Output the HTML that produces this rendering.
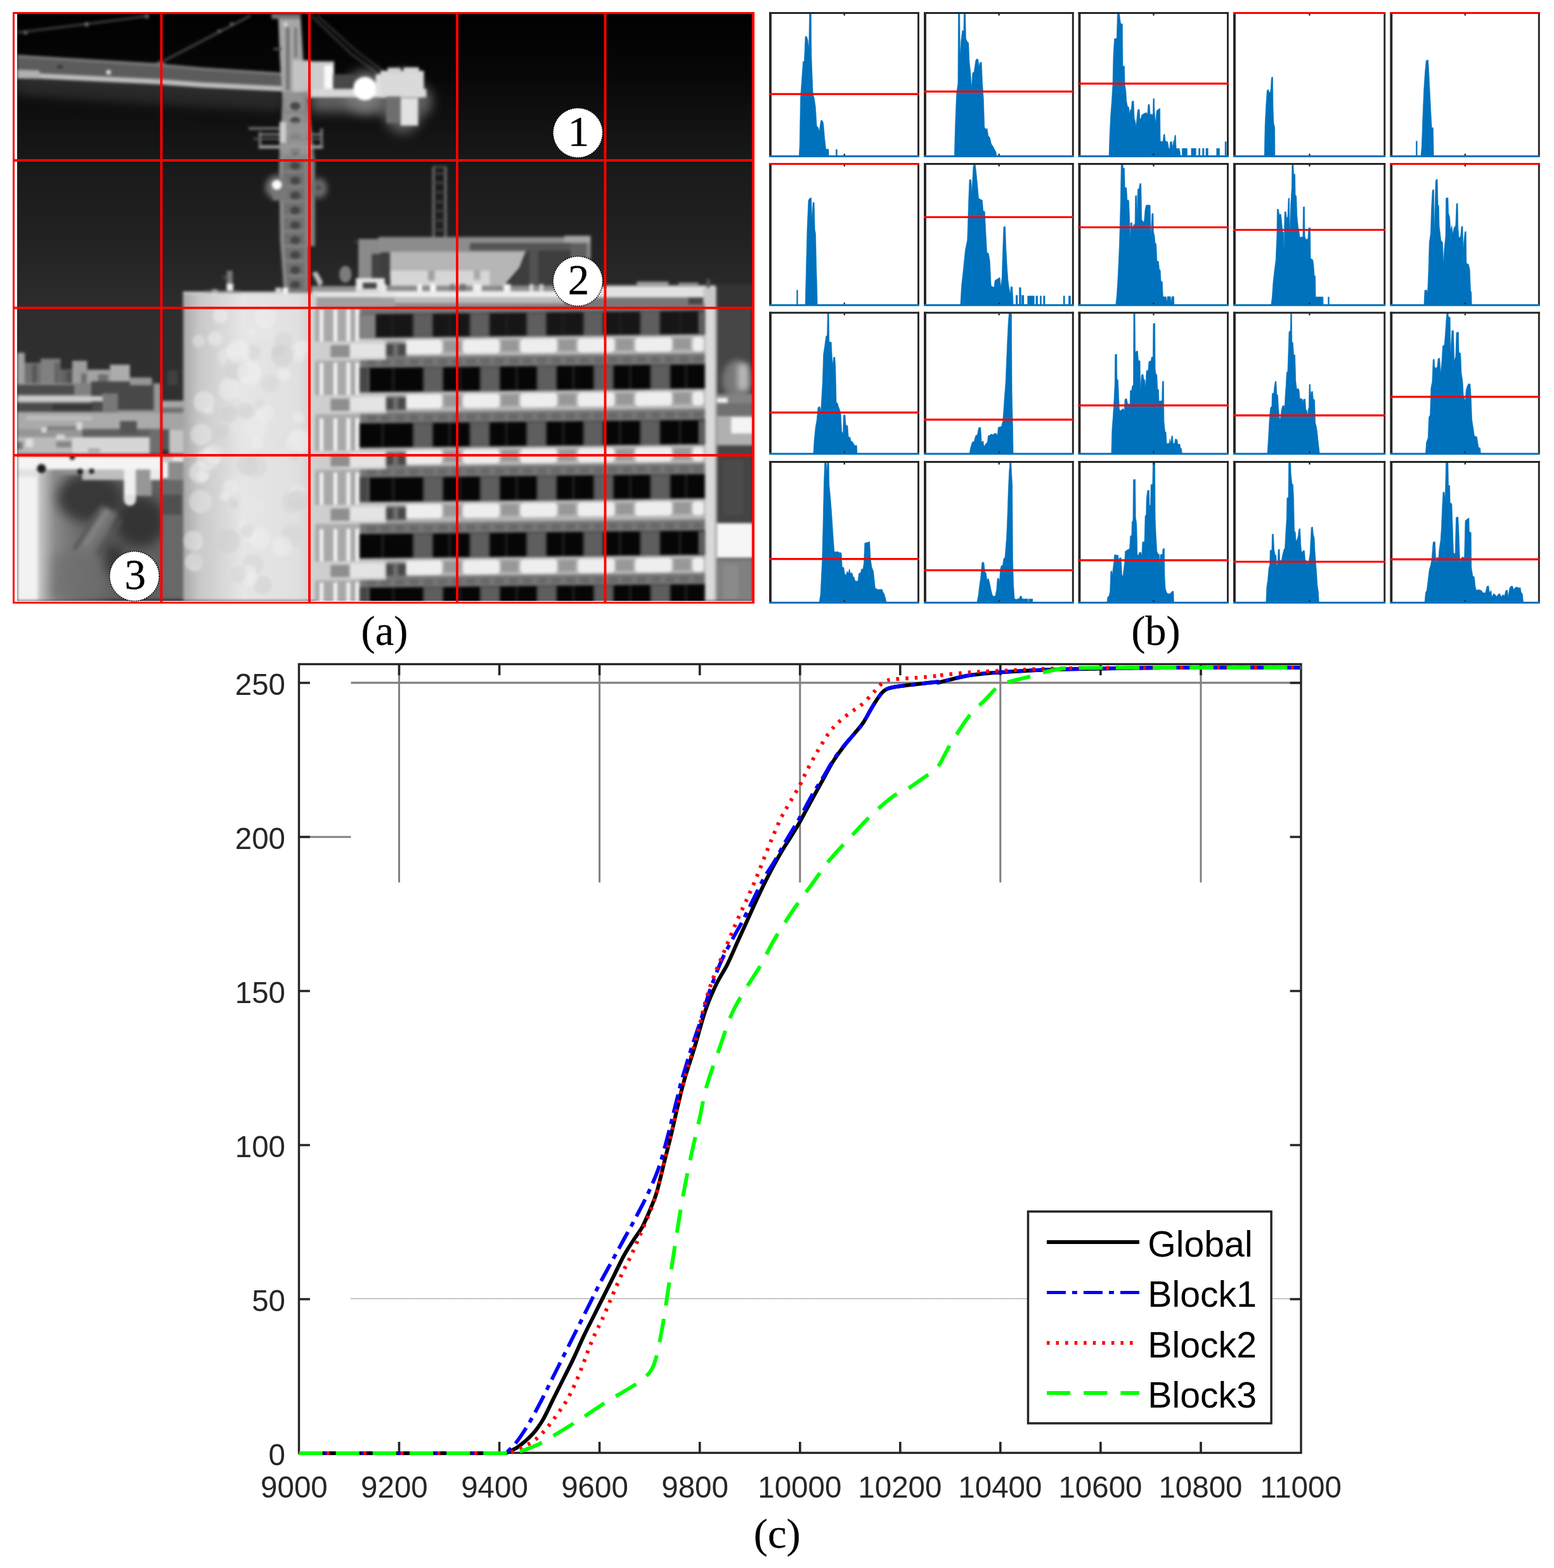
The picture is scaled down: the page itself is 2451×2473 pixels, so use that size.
<!DOCTYPE html>
<html lang="en"><head><meta charset="utf-8"><title>Figure</title>
<style>
html,body{margin:0;padding:0;background:#fff;}
body{width:2451px;height:2473px;overflow:hidden;}
svg{display:block;}
text{font-family:"Liberation Sans",sans-serif;}
.tk{font-size:47.5px;fill:#262626;}
.lg{font-size:57.2px;fill:#000;}
.cap{font-family:"Liberation Serif",serif;font-size:66.5px;fill:#000;stroke:#000;stroke-width:0.3px;}
.num{font-family:"Liberation Serif",serif;font-size:67px;fill:#000;stroke:#000;stroke-width:0.4px;}
</style></head><body>
<svg width="2451" height="2473" viewBox="0 0 2451 2473">
<rect width="2451" height="2473" fill="#fff"/>
<defs>
<clipPath id="pclip"><rect x="27" y="22" width="1159" height="925.7"/></clipPath>
<linearGradient id="skyg" x1="0" y1="0" x2="0" y2="1"><stop offset="0" stop-color="#010101"/><stop offset="0.1" stop-color="#070707"/><stop offset="0.25" stop-color="#191919"/><stop offset="0.4" stop-color="#232323"/><stop offset="0.5" stop-color="#2d2d2d"/><stop offset="0.75" stop-color="#313131"/><stop offset="1" stop-color="#343434"/></linearGradient>
<linearGradient id="concg" x1="0" y1="0" x2="1" y2="0"><stop offset="0" stop-color="#a8a8a8"/><stop offset="0.12" stop-color="#c8c8c8"/><stop offset="0.45" stop-color="#e6e6e6"/><stop offset="0.85" stop-color="#e0e0e0"/><stop offset="1" stop-color="#d0d0d0"/></linearGradient>
<linearGradient id="blg" x1="0" y1="0" x2="1" y2="0"><stop offset="0" stop-color="#f2f2f2"/><stop offset="0.2" stop-color="#f0f0f0"/><stop offset="0.24" stop-color="#c4c4c4"/><stop offset="0.4" stop-color="#8a8a8a"/><stop offset="1" stop-color="#606060" stop-opacity="0"/></linearGradient>
<filter id="b2" color-interpolation-filters="sRGB" x="-5%" y="-5%" width="110%" height="110%"><feGaussianBlur stdDeviation="2.3"/></filter>
<filter id="b4" color-interpolation-filters="sRGB" x="-50%" y="-50%" width="200%" height="200%"><feGaussianBlur stdDeviation="4"/></filter>
<filter id="b8" color-interpolation-filters="sRGB" x="-50%" y="-50%" width="200%" height="200%"><feGaussianBlur stdDeviation="9"/></filter>
</defs>
<g clip-path="url(#pclip)">
<g filter="url(#b2)">
<rect x="0" y="0" width="1220" height="980" fill="#222"/>
<rect x="27" y="22" width="1159" height="925.7" fill="url(#skyg)"/>
<path d="M27,120 L253,133 L445,146 L445,162 L253,150 L27,138Z" fill="#464646" filter="url(#b8)"/>
<path d="M27,125 L253,138 L445,150 L445,175 L253,165 L27,150Z" fill="#282828" filter="url(#b8)"/>
<path d="M27,51.3 L135.9,38 L231.5,25.5" fill="none" stroke="#3e3e3e" stroke-width="3.5"/>
<circle cx="40.4" cy="51.3" r="3.4" fill="#5f5f5f"/>
<circle cx="136.7" cy="38.5" r="3.4" fill="#6e6e6e"/>
<circle cx="231.5" cy="26" r="3.4" fill="#646464"/>
<path d="M254.2,98.3 L320,63.9 L395.2,24.7" fill="none" stroke="#464646" stroke-width="3.5"/>
<circle cx="345.8" cy="49" r="2.8" fill="#696969"/>
<circle cx="365.4" cy="38" r="2.8" fill="#696969"/>
<path d="M490.8,24.7 L555,85.8 L602,120.3" fill="none" stroke="#3a3a3a" stroke-width="3"/>
<path d="M500.2,24.7 L564.4,82.7 L611.4,117.1" fill="none" stroke="#343434" stroke-width="3"/>
<path d="M27,86.5 L245,99.5 L253,95 L262,101.5 L320,106.5 L445,114.5 L445,144.5 L320,138.5 L253,134 L27,123Z" fill="#5c5c5c"/>
<path d="M27,88.5 L253,102.5 L320,108.5 L445,116.5" fill="none" stroke="#7c7c7c" stroke-width="4"/>
<path d="M27,118 L253,129 L320,134 L445,140" fill="none" stroke="#bcbcbc" stroke-width="8"/>
<path d="M27,110 L62,111 L64,124 L27,124Z" fill="#b0b0b0"/>
<circle cx="171.2" cy="114" r="3.8" fill="#e1e1e1"/>
<rect x="90.5" y="103" width="7.8" height="4.7" fill="#323232"/>
<rect x="428.1" y="22.3" width="46.2" height="7.4" fill="#787878"/>
<path d="M439.1,29.4 L474.3,29.4 L478.2,95.2 L478.5,154.7 L445.3,154.7 L441.4,90.5Z" fill="#a6a6a6"/>
<rect x="451.3" y="43.5" width="5.3" height="98.7" fill="#707070"/>
<rect x="464.1" y="43.5" width="4.7" height="47" fill="#787878"/>
<circle cx="450.3" cy="38.5" r="3.4" fill="#d7d7d7"/>
<rect x="431.2" y="75.1" width="12.5" height="4.4" fill="#464646"/>
<rect x="461.8" y="95.2" width="29" height="59.5" fill="#c4c4c4"/>
<path d="M446.1,145.3 L485.3,145.3 L497,255 L497,388.2 L486.8,388.2 L486.8,466.5 L448.5,466.5 L441.4,380.3 L439.8,264.4Z" fill="#707070"/>
<path d="M446.1,145.3 L485.3,145.3 L490.8,251.9 L440.6,251.9Z" fill="#929292"/>
<path d="M450,153.2 L443.8,264.4 L445.3,380.3 L450.8,466.5" fill="none" stroke="#8c8c8c" stroke-width="5"/>
<path d="M481.4,153.2 L482.9,264.4 L483.7,466.5" fill="none" stroke="#878787" stroke-width="4.5"/>
<path d="M493.1,255 L493.6,388.2" fill="none" stroke="#828282" stroke-width="5"/>
<ellipse cx="465.7" cy="167.3" rx="8.1" ry="6.3" fill="#464646"/>
<path d="M448.5,176.7 L482.9,176.7" fill="none" stroke="#828282" stroke-width="4"/>
<ellipse cx="465.7" cy="190.8" rx="8.1" ry="6.3" fill="#464646"/>
<path d="M448.5,200.2 L482.9,200.2" fill="none" stroke="#828282" stroke-width="4"/>
<ellipse cx="465.7" cy="214.3" rx="8.1" ry="6.3" fill="#464646"/>
<path d="M448.5,223.7 L482.9,223.7" fill="none" stroke="#828282" stroke-width="4"/>
<ellipse cx="465.7" cy="237.8" rx="8.1" ry="6.3" fill="#464646"/>
<path d="M448.5,247.2 L482.9,247.2" fill="none" stroke="#828282" stroke-width="4"/>
<ellipse cx="465.7" cy="261.3" rx="8.1" ry="6.3" fill="#464646"/>
<path d="M448.5,270.7 L482.9,270.7" fill="none" stroke="#828282" stroke-width="4"/>
<ellipse cx="465.7" cy="284.8" rx="8.1" ry="6.3" fill="#464646"/>
<path d="M448.5,294.2 L482.9,294.2" fill="none" stroke="#828282" stroke-width="4"/>
<ellipse cx="465.7" cy="308.3" rx="8.1" ry="6.3" fill="#464646"/>
<path d="M448.5,317.7 L482.9,317.7" fill="none" stroke="#828282" stroke-width="4"/>
<ellipse cx="465.7" cy="331.8" rx="8.1" ry="6.3" fill="#464646"/>
<path d="M448.5,341.2 L482.9,341.2" fill="none" stroke="#828282" stroke-width="4"/>
<ellipse cx="465.7" cy="355.3" rx="8.1" ry="6.3" fill="#464646"/>
<path d="M448.5,364.7 L482.9,364.7" fill="none" stroke="#828282" stroke-width="4"/>
<ellipse cx="465.7" cy="378.8" rx="8.1" ry="6.3" fill="#464646"/>
<path d="M448.5,388.2 L482.9,388.2" fill="none" stroke="#828282" stroke-width="4"/>
<ellipse cx="465.7" cy="402.3" rx="8.1" ry="6.3" fill="#464646"/>
<path d="M448.5,411.7 L482.9,411.7" fill="none" stroke="#828282" stroke-width="4"/>
<ellipse cx="465.7" cy="425.8" rx="8.1" ry="6.3" fill="#464646"/>
<path d="M448.5,435.2 L482.9,435.2" fill="none" stroke="#828282" stroke-width="4"/>
<ellipse cx="465.7" cy="449.3" rx="8.1" ry="6.3" fill="#464646"/>
<path d="M448.5,458.7 L482.9,458.7" fill="none" stroke="#828282" stroke-width="4"/>
<path d="M392.1,202.5 L443.8,202.5" fill="none" stroke="#737373" stroke-width="4"/>
<path d="M407.7,211.9 L508,211.9" fill="none" stroke="#787878" stroke-width="3.5"/>
<path d="M407.7,231.8 L509.6,231.8" fill="none" stroke="#a0a0a0" stroke-width="5"/>
<path d="M410.1,208 L410.1,231.8" fill="none" stroke="#787878" stroke-width="4"/>
<path d="M507.2,202.5 L507.2,231.8" fill="none" stroke="#787878" stroke-width="4"/>
<path d="M399.9,219 L506.4,219" fill="none" stroke="#5c5c5c" stroke-width="3"/>
<rect x="440.6" y="192.3" width="45.4" height="50.1" fill="#969696" opacity="0.75"/>
<rect x="441.4" y="192.3" width="9.9" height="32.9" fill="#cdcdcd"/>
<circle cx="437.5" cy="295.4" r="18.8" fill="#787878" filter="url(#b4)"/>
<rect x="429.7" y="304.8" width="25.1" height="11" fill="#787878"/>
<circle cx="436.7" cy="291.5" r="7.8" fill="#fcfcfc"/>
<ellipse cx="503.3" cy="297" rx="12.5" ry="15.7" fill="#6e6e6e" filter="url(#b4)"/>
<circle cx="502.5" cy="296.2" r="4.7" fill="#505050"/>
<rect x="490" y="142.2" width="190.3" height="34.5" fill="#606060" filter="url(#b8)"/>
<circle cx="576.9" cy="145.3" r="32.9" fill="#787878" filter="url(#b8)"/>
<ellipse cx="635.6" cy="161.9" rx="34" ry="48.6" fill="#5c5c5c" filter="url(#b8)"/>
<rect x="490" y="96.8" width="36.8" height="56.4" fill="#cdcdcd"/>
<rect x="511.4" y="103" width="14.1" height="36.8" fill="#fafafa"/>
<rect x="525.2" y="117.1" width="32.9" height="23.5" fill="#484848"/>
<rect x="490" y="140.3" width="182.5" height="13.2" fill="#d7d7d7"/>
<circle cx="575.7" cy="139.8" r="18.5" fill="#ffffff"/>
<rect x="592.6" y="117.1" width="27.4" height="36" fill="#e1e1e1"/>
<rect x="600" y="111.7" width="68.6" height="42.1" fill="#dadada"/>
<rect x="611.3" y="106.8" width="21" height="9.7" fill="#d2d2d2"/>
<rect x="636.3" y="106.2" width="24.6" height="10.4" fill="#d7d7d7"/>
<rect x="631.7" y="154.8" width="27.8" height="43.4" fill="#e2e2e2"/>
<rect x="609.1" y="152.2" width="22.7" height="42.1" fill="#6e6e6e"/>
<rect x="1129.5" y="450" width="56.5" height="497.7" fill="#464646"/>
<rect x="1129.7" y="448.7" width="58" height="37.6" fill="#343434"/>
<ellipse cx="1162.6" cy="599.1" rx="23.5" ry="31.3" fill="#787878" filter="url(#b4)"/>
<rect x="1163.4" y="574" width="16.4" height="40.7" fill="#bababa" filter="url(#b4)"/>
<rect x="1131.3" y="621" width="56.4" height="15.7" fill="#828282"/>
<rect x="1128.1" y="627.3" width="19.6" height="8.1" fill="#f0f0f0"/>
<rect x="1131.3" y="636.7" width="56.4" height="19.6" fill="#707070"/>
<rect x="1131.3" y="656.2" width="56.4" height="46.2" fill="#b0b0b0"/>
<rect x="1153.2" y="657.8" width="34.5" height="25.8" fill="#f4f4f4"/>
<rect x="1131.3" y="704.8" width="56.4" height="14.9" fill="#464646"/>
<rect x="1131.3" y="718.6" width="56.4" height="103.4" fill="#444444"/>
<rect x="1140.7" y="725.7" width="31.3" height="86.2" fill="#505050" opacity="0.6"/>
<rect x="1117.2" y="825.1" width="70.5" height="54.8" fill="#f6f6f6"/>
<rect x="1131.3" y="882.3" width="56.4" height="65.8" fill="#808080"/>
<rect x="1140.7" y="890.2" width="23.5" height="54.8" fill="#8e8e8e" opacity="0.7"/>
<rect x="27" y="556.3" width="12.1" height="73.3" fill="#a0a0a0"/>
<rect x="39.1" y="572" width="24.8" height="57.7" fill="#707070"/>
<rect x="63.9" y="565.7" width="31.3" height="63.9" fill="#808080"/>
<rect x="95.2" y="582.7" width="18.8" height="47" fill="#646464"/>
<rect x="114" y="568.9" width="23.5" height="60.8" fill="#9c9c9c"/>
<rect x="137.5" y="583" width="36" height="46.7" fill="#a2a2a2"/>
<rect x="173.5" y="575.1" width="31.3" height="54.5" fill="#acacac"/>
<rect x="204.9" y="595.5" width="34.5" height="34.2" fill="#9c9c9c"/>
<rect x="239.3" y="614" width="14.4" height="15.7" fill="#5c5c5c"/>
<rect x="51.3" y="574.8" width="6.3" height="29.8" fill="#545454"/>
<rect x="85.8" y="571.7" width="7.8" height="32.9" fill="#646464"/>
<rect x="104.6" y="585.8" width="9.4" height="21.9" fill="#505050"/>
<rect x="154.7" y="590.5" width="15.7" height="17.2" fill="#6e6e6e"/>
<rect x="128.1" y="588.9" width="7.8" height="31.3" fill="#6e6e6e"/>
<rect x="27" y="604.6" width="226.7" height="111.2" fill="#969696"/>
<rect x="27" y="606.9" width="90.1" height="15.7" fill="#4c4c4c"/>
<rect x="117.1" y="604.6" width="28.2" height="18.8" fill="#828282"/>
<rect x="143.8" y="601.5" width="98.7" height="45.4" fill="#484848"/>
<rect x="161" y="620.3" width="25.1" height="29.8" fill="#787878"/>
<rect x="204.9" y="598.3" width="34.5" height="9.4" fill="#969696"/>
<rect x="27" y="624.7" width="134.7" height="8.5" fill="#cccccc"/>
<rect x="27" y="635.6" width="134.7" height="13.6" fill="#4a4a4a"/>
<rect x="82.7" y="636.7" width="62.7" height="11" fill="#383838"/>
<rect x="27" y="651.6" width="226.7" height="25.1" fill="#aaaaaa"/>
<rect x="41.9" y="656.3" width="103.4" height="6.3" fill="#bebebe"/>
<rect x="120.3" y="665.7" width="9.4" height="12.5" fill="#d7d7d7"/>
<rect x="65.4" y="674.3" width="7.8" height="7.8" fill="#dcdcdc"/>
<rect x="129.7" y="676.7" width="124.1" height="12.8" fill="#606060"/>
<rect x="189.2" y="664.1" width="26.6" height="20.4" fill="#545454"/>
<rect x="74.8" y="672" width="45.4" height="6.3" fill="#828282"/>
<rect x="27" y="689.5" width="226.7" height="26.3" fill="#bababa"/>
<rect x="114" y="690" width="121.4" height="25.8" fill="#d6d6d6"/>
<rect x="40.4" y="691.5" width="11.7" height="14.1" fill="#dedede"/>
<rect x="88.9" y="685.3" width="13.3" height="7.8" fill="#d7d7d7"/>
<rect x="27" y="697" width="8.6" height="11.7" fill="#787878"/>
<rect x="88.9" y="696.2" width="23.5" height="9.4" fill="#868686"/>
<rect x="139.1" y="707.2" width="18.8" height="6.3" fill="#aaaaaa"/>
<rect x="236.2" y="676.7" width="17.5" height="39.2" fill="#6e6e6e"/>
<rect x="255" y="582.7" width="36.8" height="45.4" fill="#303030"/>
<rect x="264.4" y="584.2" width="15.7" height="23.5" fill="#404040"/>
<rect x="255" y="632" width="36.8" height="11" fill="#a5a5a5"/>
<rect x="255" y="643" width="36.8" height="7.8" fill="#707070"/>
<rect x="255" y="650.8" width="36.8" height="26.6" fill="#a5a5a5"/>
<rect x="255" y="677.4" width="11.7" height="32.1" fill="#545454"/>
<rect x="266.7" y="677.4" width="25.8" height="38.4" fill="#c4c4c4"/>
<rect x="27" y="719.4" width="265.5" height="225.6" fill="#606060"/>
<rect x="27" y="719.4" width="149.6" height="228.3" fill="url(#blg)"/>
<ellipse cx="142.2" cy="785.2" rx="51.7" ry="39.2" fill="#383838" filter="url(#b8)"/>
<ellipse cx="220.5" cy="822.8" rx="40.7" ry="40.7" fill="#343434" filter="url(#b8)"/>
<ellipse cx="178.2" cy="882.3" rx="20.4" ry="26.6" fill="#383838" filter="url(#b8)"/>
<path d="M107.7,874.5 L161,797.7 L186.1,810.3 L139.1,882.3Z" fill="#767676" filter="url(#b4)"/>
<path d="M79.5,945 L85.8,874.5 L161,866.7 L168.8,945Z" fill="#707070" opacity="0.8" filter="url(#b8)"/>
<path d="M134.4,860.4 L170.4,804" fill="none" stroke="#848484" stroke-width="8" opacity="0.7"/>
<path d="M117.1,866.7 L154.7,807.1" fill="none" stroke="#505050" stroke-width="8" opacity="0.6"/>
<path d="M154.7,874.5 L192.3,819.7" fill="none" stroke="#545454" stroke-width="8" opacity="0.6"/>
<rect x="129.7" y="738.2" width="67.4" height="18.8" fill="#bebebe"/>
<rect x="214.3" y="739.8" width="25.1" height="42.3" fill="#969696"/>
<rect x="27" y="719.4" width="227.2" height="21.1" fill="#f4f4f4"/>
<rect x="27" y="739.8" width="31.3" height="13.3" fill="#e2e2e2"/>
<rect x="27" y="752.3" width="30.5" height="192.7" fill="#f2f2f2"/>
<rect x="195.5" y="739.8" width="18.8" height="48.6" fill="#f0f0f0"/>
<circle cx="204.9" cy="788.3" r="9.4" fill="#e1e1e1"/>
<rect x="237" y="739.8" width="17.2" height="17.2" fill="#ebebeb"/>
<rect x="82.7" y="740.5" width="47" height="8.6" fill="#8c8c8c"/>
<circle cx="65.4" cy="739" r="7.2" fill="#1c1c1c"/>
<circle cx="114" cy="721.3" r="4.1" fill="#1c1c1c"/>
<circle cx="126.5" cy="743.7" r="4.7" fill="#1c1c1c"/>
<circle cx="144.5" cy="743.2" r="4.1" fill="#1c1c1c"/>
<rect x="255" y="719.4" width="38.4" height="9.4" fill="#c8c8c8"/>
<rect x="255" y="757" width="38.4" height="188" fill="#686868"/>
<rect x="255" y="780.5" width="31.3" height="31.3" fill="#505050"/>
<rect x="255.8" y="728.8" width="9.4" height="25.8" fill="#f4f4f4"/>
<rect x="265.2" y="728.8" width="28.2" height="28.2" fill="#8c8c8c"/>
<rect x="272.2" y="719.4" width="21.1" height="7.8" fill="#ebebeb"/>
<path d="M683.8,262.5 L683.8,375.3" fill="none" stroke="#6c6c6c" stroke-width="4"/>
<path d="M702.6,262.5 L702.6,375.3" fill="none" stroke="#707070" stroke-width="4"/>
<path d="M681.5,263.3 L705,263.3" fill="none" stroke="#505050" stroke-width="3"/>
<path d="M683.8,273.5 L702.6,273.5" fill="none" stroke="#424242" stroke-width="3.5"/>
<path d="M683.8,288.4 L702.6,288.4" fill="none" stroke="#424242" stroke-width="3.5"/>
<path d="M683.8,303.3 L702.6,303.3" fill="none" stroke="#424242" stroke-width="3.5"/>
<path d="M683.8,318.1 L702.6,318.1" fill="none" stroke="#424242" stroke-width="3.5"/>
<path d="M683.8,333 L702.6,333" fill="none" stroke="#424242" stroke-width="3.5"/>
<path d="M683.8,347.9 L702.6,347.9" fill="none" stroke="#424242" stroke-width="3.5"/>
<path d="M683.8,362.8 L702.6,362.8" fill="none" stroke="#424242" stroke-width="3.5"/>
<rect x="565.2" y="376.9" width="57.2" height="62.7" fill="#8a8a8a"/>
<rect x="586.3" y="400.4" width="26.6" height="39.2" fill="#424242"/>
<rect x="558.1" y="380.8" width="7.8" height="2.3" fill="#505050"/>
<rect x="596.9" y="373.8" width="303.1" height="25.1" fill="#8c8c8c"/>
<rect x="890" y="371.4" width="41.5" height="50.9" fill="#5f5f5f"/>
<rect x="890" y="372.2" width="41.5" height="11" fill="#a5a5a5"/>
<rect x="925.7" y="383.2" width="5.8" height="23.5" fill="#8c8c8c"/>
<rect x="741" y="383.2" width="159" height="11.7" fill="#545454"/>
<rect x="600" y="398" width="14.9" height="55.6" fill="#3e3e3e"/>
<path d="M615.7,397.3 L828.7,397.3 L819.3,422.3 L794.3,451.3 L615.7,451.3Z" fill="#b6b6b6"/>
<rect x="615.7" y="427" width="156.7" height="24.3" fill="#d6d6d6"/>
<rect x="675.2" y="427" width="10.2" height="15.7" fill="#a0a0a0"/>
<rect x="747.3" y="425.5" width="10.2" height="15.7" fill="#aaaaaa"/>
<path d="M830.3,394.9 L900,394.9 L900,452.1 L797.4,452.1 L820.9,423.9Z" fill="#3e3e3e"/>
<rect x="835" y="394.9" width="14.1" height="57.2" fill="#525252"/>
<rect x="490.8" y="451.3" width="131.6" height="8.6" fill="#969696"/>
<rect x="600" y="450.5" width="300" height="8.6" fill="#8c8c8c"/>
<rect x="600" y="448.2" width="9.4" height="11.7" fill="#f0f0f0"/>
<rect x="658" y="448.2" width="7.8" height="11.7" fill="#f5f5f5"/>
<rect x="678.3" y="448.2" width="9.4" height="11.7" fill="#fafafa"/>
<rect x="745.7" y="448.2" width="14.1" height="11.7" fill="#f0f0f0"/>
<rect x="794.3" y="448.2" width="11" height="11.7" fill="#f5f5f5"/>
<rect x="835" y="448.2" width="6.3" height="11.7" fill="#d7d7d7"/>
<rect x="850.7" y="448.2" width="6.3" height="11.7" fill="#d2d2d2"/>
<rect x="709.7" y="448.2" width="7.8" height="11.7" fill="#787878"/>
<rect x="725.3" y="448.2" width="9.4" height="11.7" fill="#6e6e6e"/>
<rect x="599.2" y="459.1" width="300.8" height="10.2" fill="#ececec"/>
<rect x="599.2" y="469.3" width="300.8" height="8.6" fill="#bebebe"/>
<rect x="599.2" y="477.9" width="300.8" height="7.8" fill="#8c8c8c"/>
<rect x="490.8" y="459.9" width="131.6" height="9.4" fill="#e4e4e4"/>
<rect x="490.8" y="469.3" width="131.6" height="16.4" fill="#a0a0a0"/>
<rect x="955.8" y="449.7" width="173.1" height="3.9" fill="#aaaaaa"/>
<rect x="1004.4" y="444.3" width="50.1" height="7.8" fill="#a0a0a0"/>
<rect x="1070.2" y="445.8" width="31.3" height="6.3" fill="#969696"/>
<rect x="890" y="452.1" width="238.9" height="17.2" fill="#e2e2e2"/>
<rect x="890" y="469.3" width="219.3" height="16.4" fill="#787878"/>
<rect x="1085.8" y="469.3" width="23.5" height="16.4" fill="#464646"/>
<rect x="1109.3" y="453.7" width="20.4" height="32.1" fill="#c8c8c8"/>
<rect x="1114.3" y="440.3" width="5.6" height="13.3" fill="#545454"/>
<rect x="288.7" y="459.9" width="199" height="25.8" fill="#cecece"/>
<rect x="357.6" y="427" width="9.4" height="21.9" fill="#787878"/>
<rect x="351.3" y="434.9" width="6.3" height="5.5" fill="#464646"/>
<rect x="357.6" y="447.4" width="10.2" height="13.3" fill="#f0f0f0"/>
<rect x="334.1" y="456.8" width="9.4" height="11" fill="#f0f0f0"/>
<rect x="323.1" y="458.4" width="56.4" height="3.1" fill="#828282"/>
<rect x="434.4" y="453.7" width="9.4" height="7.8" fill="#d7d7d7"/>
<rect x="445.3" y="453.7" width="9.4" height="9.4" fill="#f5f5f5"/>
<rect x="454.7" y="455.2" width="31.3" height="6.3" fill="#787878"/>
<path d="M492.3,430.2 L500.2,428.6 L509.6,445.8 L503.3,452.1Z" fill="#bebebe"/>
<ellipse cx="544.8" cy="432.5" rx="9.7" ry="13.3" fill="#7c7c7c"/>
<rect x="561.3" y="438.8" width="45.4" height="20.4" fill="#e8e8e8"/>
<rect x="572.2" y="445.8" width="21.9" height="9.7" fill="#464646"/>
<rect x="289.1" y="463.6" width="209.9" height="484.1" fill="url(#concg)"/>
<circle cx="358.8" cy="563.3" r="14.9" fill="#ececec" opacity="0.5"/>
<circle cx="447.3" cy="538" r="14" fill="#d4d4d4" opacity="0.5"/>
<circle cx="339.3" cy="534.3" r="11.9" fill="#f0f0f0" opacity="0.5"/>
<circle cx="317.3" cy="685.6" r="17.2" fill="#ececec" opacity="0.5"/>
<circle cx="469.8" cy="777.7" r="14" fill="#ececec" opacity="0.5"/>
<circle cx="403.9" cy="673.1" r="19.1" fill="#ececec" opacity="0.5"/>
<circle cx="400.2" cy="555.4" r="11.9" fill="#d4d4d4" opacity="0.5"/>
<circle cx="322.1" cy="633.7" r="17" fill="#f0f0f0" opacity="0.5"/>
<circle cx="319.4" cy="751.1" r="8.9" fill="#ececec" opacity="0.5"/>
<circle cx="398.6" cy="524" r="7.2" fill="#f0f0f0" opacity="0.5"/>
<circle cx="389.5" cy="733.5" r="16.5" fill="#cdcdcd" opacity="0.5"/>
<circle cx="405.4" cy="698.4" r="10.4" fill="#f0f0f0" opacity="0.5"/>
<circle cx="425.6" cy="605" r="13.9" fill="#d4d4d4" opacity="0.5"/>
<circle cx="389.3" cy="649.4" r="12.3" fill="#d4d4d4" opacity="0.5"/>
<circle cx="475.6" cy="548.7" r="11.9" fill="#f4f4f4" opacity="0.5"/>
<circle cx="328.2" cy="714.4" r="7" fill="#e8e8e8" opacity="0.5"/>
<circle cx="314.9" cy="745.2" r="16.7" fill="#f4f4f4" opacity="0.5"/>
<circle cx="361.7" cy="652.4" r="12.9" fill="#cdcdcd" opacity="0.5"/>
<circle cx="313.3" cy="537.7" r="10" fill="#e8e8e8" opacity="0.5"/>
<circle cx="419.4" cy="523" r="15.6" fill="#e8e8e8" opacity="0.5"/>
<circle cx="404" cy="800.3" r="12.2" fill="#e8e8e8" opacity="0.5"/>
<circle cx="369.8" cy="794.6" r="6.8" fill="#cdcdcd" opacity="0.5"/>
<circle cx="364.4" cy="768.9" r="12.9" fill="#f0f0f0" opacity="0.5"/>
<circle cx="437.9" cy="553.7" r="9.7" fill="#cdcdcd" opacity="0.5"/>
<circle cx="464.4" cy="717.7" r="8.6" fill="#cdcdcd" opacity="0.5"/>
<circle cx="398.9" cy="890.6" r="17.1" fill="#d4d4d4" opacity="0.5"/>
<circle cx="350.7" cy="681.5" r="11.1" fill="#cdcdcd" opacity="0.5"/>
<circle cx="471.6" cy="563.3" r="8.8" fill="#f0f0f0" opacity="0.5"/>
<circle cx="418.4" cy="501.3" r="17.2" fill="#f0f0f0" opacity="0.5"/>
<circle cx="347.9" cy="497.7" r="11.9" fill="#f4f4f4" opacity="0.5"/>
<circle cx="409.7" cy="638.3" r="8.1" fill="#d4d4d4" opacity="0.5"/>
<circle cx="470.3" cy="788.5" r="16.1" fill="#cdcdcd" opacity="0.5"/>
<circle cx="461.3" cy="844.4" r="17.8" fill="#d4d4d4" opacity="0.5"/>
<circle cx="371" cy="674.2" r="7.8" fill="#e8e8e8" opacity="0.5"/>
<circle cx="372.4" cy="581.1" r="19.2" fill="#cdcdcd" opacity="0.5"/>
<circle cx="330" cy="647.8" r="7.2" fill="#ececec" opacity="0.5"/>
<circle cx="402" cy="735.7" r="18.8" fill="#d4d4d4" opacity="0.5"/>
<circle cx="305.6" cy="886.5" r="14.4" fill="#f0f0f0" opacity="0.5"/>
<circle cx="414.1" cy="922.8" r="14.3" fill="#cdcdcd" opacity="0.5"/>
<circle cx="323" cy="875.2" r="19.3" fill="#cdcdcd" opacity="0.5"/>
<circle cx="386.6" cy="635.2" r="8.3" fill="#e8e8e8" opacity="0.5"/>
<circle cx="362.1" cy="614.2" r="17.2" fill="#f0f0f0" opacity="0.5"/>
<circle cx="393" cy="587.6" r="18.8" fill="#f4f4f4" opacity="0.5"/>
<circle cx="327.2" cy="738.6" r="6.8" fill="#d4d4d4" opacity="0.5"/>
<circle cx="354.2" cy="783.1" r="7.7" fill="#f4f4f4" opacity="0.5"/>
<circle cx="393.4" cy="901.7" r="11.1" fill="#f0f0f0" opacity="0.5"/>
<circle cx="395.9" cy="844" r="10.7" fill="#f0f0f0" opacity="0.5"/>
<circle cx="410.3" cy="848.1" r="16.3" fill="#f0f0f0" opacity="0.5"/>
<circle cx="444.6" cy="861.5" r="16.1" fill="#f0f0f0" opacity="0.5"/>
<circle cx="336.7" cy="716.1" r="15.9" fill="#ececec" opacity="0.5"/>
<circle cx="441.8" cy="706.9" r="9" fill="#d4d4d4" opacity="0.5"/>
<circle cx="471.4" cy="695.7" r="18.6" fill="#f4f4f4" opacity="0.5"/>
<circle cx="471.2" cy="658.8" r="9.3" fill="#f0f0f0" opacity="0.5"/>
<circle cx="384.8" cy="646.8" r="12.7" fill="#d4d4d4" opacity="0.5"/>
<circle cx="450.8" cy="710.1" r="14.9" fill="#e8e8e8" opacity="0.5"/>
<circle cx="316.2" cy="791" r="18.3" fill="#e8e8e8" opacity="0.5"/>
<circle cx="434.7" cy="709.5" r="8.8" fill="#e8e8e8" opacity="0.5"/>
<circle cx="360.3" cy="853.7" r="19.1" fill="#cdcdcd" opacity="0.5"/>
<circle cx="383.6" cy="828" r="7.6" fill="#f0f0f0" opacity="0.5"/>
<circle cx="331.4" cy="552.7" r="8.4" fill="#cdcdcd" opacity="0.5"/>
<circle cx="444.7" cy="561.2" r="17.2" fill="#cdcdcd" opacity="0.5"/>
<circle cx="418.1" cy="652.5" r="13.6" fill="#f0f0f0" opacity="0.5"/>
<circle cx="304.9" cy="853" r="15.9" fill="#ececec" opacity="0.5"/>
<circle cx="394.9" cy="913" r="12.1" fill="#f0f0f0" opacity="0.5"/>
<circle cx="448.2" cy="590.2" r="9.7" fill="#f4f4f4" opacity="0.5"/>
<circle cx="390.3" cy="837.1" r="10.7" fill="#d4d4d4" opacity="0.5"/>
<circle cx="375.7" cy="554.5" r="18.3" fill="#f4f4f4" opacity="0.5"/>
<circle cx="461" cy="791.9" r="17" fill="#d4d4d4" opacity="0.5"/>
<circle cx="376" cy="905.9" r="13" fill="#d4d4d4" opacity="0.5"/>
<circle cx="328.1" cy="724" r="17.8" fill="#f0f0f0" opacity="0.5"/>
<rect x="497" y="486" width="631" height="461.7" fill="#acacac"/>
<g transform="matrix(1,-0.0105,0,1,0,6.3)">
<rect x="568" y="485.2" width="544" height="12" fill="#767676"/>
<rect x="566" y="494.7" width="546.5" height="38.5" fill="#464646"/>
<rect x="568" y="496.7" width="23.1" height="34.5" fill="#5e5e5e"/>
<rect x="593" y="495.7" width="57.6" height="36.5" fill="#161616"/>
<rect x="617.2" y="495.7" width="4" height="36.5" fill="#1e1e1e"/>
<rect x="653.6" y="496.7" width="27.1" height="34.5" fill="#5e5e5e"/>
<rect x="683.2" y="495.7" width="57" height="36.5" fill="#161616"/>
<rect x="707.1" y="495.7" width="4" height="36.5" fill="#1e1e1e"/>
<rect x="743.2" y="496.7" width="27.1" height="34.5" fill="#5e5e5e"/>
<rect x="772.8" y="495.7" width="57" height="36.5" fill="#161616"/>
<rect x="796.7" y="495.7" width="4" height="36.5" fill="#1e1e1e"/>
<rect x="832.8" y="496.7" width="27.1" height="34.5" fill="#5e5e5e"/>
<rect x="862.4" y="495.7" width="57" height="36.5" fill="#161616"/>
<rect x="886.3" y="495.7" width="4" height="36.5" fill="#1e1e1e"/>
<rect x="922.4" y="496.7" width="27.1" height="34.5" fill="#5e5e5e"/>
<rect x="952" y="495.7" width="57" height="36.5" fill="#161616"/>
<rect x="975.9" y="495.7" width="4" height="36.5" fill="#1e1e1e"/>
<rect x="1012" y="496.7" width="27.1" height="34.5" fill="#5e5e5e"/>
<rect x="1041.6" y="495.7" width="69.4" height="36.5" fill="#161616"/>
<rect x="1070.7" y="495.7" width="4" height="36.5" fill="#1e1e1e"/>
<rect x="1101.6" y="496.7" width="9.4" height="34.5" fill="#5e5e5e"/>
<rect x="568" y="495.7" width="24" height="36.5" fill="#828282"/>
<rect x="552" y="532.7" width="561" height="31" fill="#b4b4b4"/>
<rect x="552" y="536.7" width="54.8" height="22.5" rx="5" fill="#eeeeee"/>
<rect x="609.8" y="538.7" width="26" height="17.5" fill="#989898"/>
<rect x="639.4" y="536.7" width="58" height="22.5" rx="5" fill="#eeeeee"/>
<rect x="700.4" y="538.7" width="26" height="17.5" fill="#989898"/>
<rect x="730" y="536.7" width="58" height="22.5" rx="5" fill="#eeeeee"/>
<rect x="791" y="538.7" width="26" height="17.5" fill="#989898"/>
<rect x="820.6" y="536.7" width="58" height="22.5" rx="5" fill="#eeeeee"/>
<rect x="881.6" y="538.7" width="26" height="17.5" fill="#989898"/>
<rect x="911.2" y="536.7" width="58" height="22.5" rx="5" fill="#eeeeee"/>
<rect x="972.2" y="538.7" width="26" height="17.5" fill="#989898"/>
<rect x="1001.8" y="536.7" width="58" height="22.5" rx="5" fill="#eeeeee"/>
<rect x="1062.8" y="538.7" width="26" height="17.5" fill="#989898"/>
<rect x="1092.4" y="536.7" width="17.6" height="22.5" rx="5" fill="#eeeeee"/>
<rect x="568" y="562.8" width="544" height="19" fill="#767676"/>
<rect x="579" y="567.3" width="14" height="9" fill="#686868"/>
<rect x="601.4" y="567.3" width="14" height="9" fill="#686868"/>
<rect x="623.8" y="567.3" width="14" height="9" fill="#686868"/>
<rect x="646.2" y="567.3" width="14" height="9" fill="#686868"/>
<rect x="668.6" y="567.3" width="14" height="9" fill="#686868"/>
<rect x="691" y="567.3" width="14" height="9" fill="#686868"/>
<rect x="713.4" y="567.3" width="14" height="9" fill="#686868"/>
<rect x="735.8" y="567.3" width="14" height="9" fill="#686868"/>
<rect x="758.2" y="567.3" width="14" height="9" fill="#686868"/>
<rect x="780.6" y="567.3" width="14" height="9" fill="#686868"/>
<rect x="803" y="567.3" width="14" height="9" fill="#686868"/>
<rect x="825.4" y="567.3" width="14" height="9" fill="#686868"/>
<rect x="847.8" y="567.3" width="14" height="9" fill="#686868"/>
<rect x="870.2" y="567.3" width="14" height="9" fill="#686868"/>
<rect x="892.6" y="567.3" width="14" height="9" fill="#686868"/>
<rect x="915" y="567.3" width="14" height="9" fill="#686868"/>
<rect x="937.4" y="567.3" width="14" height="9" fill="#686868"/>
<rect x="959.8" y="567.3" width="14" height="9" fill="#686868"/>
<rect x="982.2" y="567.3" width="14" height="9" fill="#686868"/>
<rect x="1004.6" y="567.3" width="14" height="9" fill="#686868"/>
<rect x="1027" y="567.3" width="14" height="9" fill="#686868"/>
<rect x="1049.4" y="567.3" width="14" height="9" fill="#686868"/>
<rect x="1071.8" y="567.3" width="14" height="9" fill="#686868"/>
<rect x="1094.2" y="567.3" width="14" height="9" fill="#686868"/>
<rect x="566" y="579.3" width="546.5" height="39.6" fill="#464646"/>
<rect x="580.2" y="581.3" width="27.1" height="35.6" fill="#5e5e5e"/>
<rect x="583" y="580.3" width="83.8" height="37.6" fill="#060606"/>
<rect x="618.2" y="580.3" width="4" height="37.6" fill="#1e1e1e"/>
<rect x="669.8" y="581.3" width="27.1" height="35.6" fill="#5e5e5e"/>
<rect x="699.4" y="580.3" width="57" height="37.6" fill="#060606"/>
<rect x="723.3" y="580.3" width="4" height="37.6" fill="#1e1e1e"/>
<rect x="759.4" y="581.3" width="27.1" height="35.6" fill="#5e5e5e"/>
<rect x="789" y="580.3" width="57" height="37.6" fill="#060606"/>
<rect x="812.9" y="580.3" width="4" height="37.6" fill="#1e1e1e"/>
<rect x="849" y="581.3" width="27.1" height="35.6" fill="#5e5e5e"/>
<rect x="878.6" y="580.3" width="57" height="37.6" fill="#060606"/>
<rect x="902.5" y="580.3" width="4" height="37.6" fill="#1e1e1e"/>
<rect x="938.6" y="581.3" width="27.1" height="35.6" fill="#5e5e5e"/>
<rect x="968.2" y="580.3" width="57" height="37.6" fill="#060606"/>
<rect x="992.1" y="580.3" width="4" height="37.6" fill="#1e1e1e"/>
<rect x="1028.2" y="581.3" width="27.1" height="35.6" fill="#5e5e5e"/>
<rect x="1057.8" y="580.3" width="53.2" height="37.6" fill="#060606"/>
<rect x="1080.1" y="580.3" width="4" height="37.6" fill="#1e1e1e"/>
<rect x="552" y="618.4" width="561" height="31" fill="#b4b4b4"/>
<rect x="552" y="622.4" width="54.8" height="22.5" rx="5" fill="#eeeeee"/>
<rect x="609.8" y="624.4" width="26" height="17.5" fill="#989898"/>
<rect x="639.4" y="622.4" width="58" height="22.5" rx="5" fill="#eeeeee"/>
<rect x="700.4" y="624.4" width="26" height="17.5" fill="#989898"/>
<rect x="730" y="622.4" width="58" height="22.5" rx="5" fill="#eeeeee"/>
<rect x="791" y="624.4" width="26" height="17.5" fill="#989898"/>
<rect x="820.6" y="622.4" width="58" height="22.5" rx="5" fill="#eeeeee"/>
<rect x="881.6" y="624.4" width="26" height="17.5" fill="#989898"/>
<rect x="911.2" y="622.4" width="58" height="22.5" rx="5" fill="#eeeeee"/>
<rect x="972.2" y="624.4" width="26" height="17.5" fill="#989898"/>
<rect x="1001.8" y="622.4" width="58" height="22.5" rx="5" fill="#eeeeee"/>
<rect x="1062.8" y="624.4" width="26" height="17.5" fill="#989898"/>
<rect x="1092.4" y="622.4" width="17.6" height="22.5" rx="5" fill="#eeeeee"/>
<rect x="568" y="650.5" width="544" height="19" fill="#767676"/>
<rect x="579" y="655" width="14" height="9" fill="#686868"/>
<rect x="601.4" y="655" width="14" height="9" fill="#686868"/>
<rect x="623.8" y="655" width="14" height="9" fill="#686868"/>
<rect x="646.2" y="655" width="14" height="9" fill="#686868"/>
<rect x="668.6" y="655" width="14" height="9" fill="#686868"/>
<rect x="691" y="655" width="14" height="9" fill="#686868"/>
<rect x="713.4" y="655" width="14" height="9" fill="#686868"/>
<rect x="735.8" y="655" width="14" height="9" fill="#686868"/>
<rect x="758.2" y="655" width="14" height="9" fill="#686868"/>
<rect x="780.6" y="655" width="14" height="9" fill="#686868"/>
<rect x="803" y="655" width="14" height="9" fill="#686868"/>
<rect x="825.4" y="655" width="14" height="9" fill="#686868"/>
<rect x="847.8" y="655" width="14" height="9" fill="#686868"/>
<rect x="870.2" y="655" width="14" height="9" fill="#686868"/>
<rect x="892.6" y="655" width="14" height="9" fill="#686868"/>
<rect x="915" y="655" width="14" height="9" fill="#686868"/>
<rect x="937.4" y="655" width="14" height="9" fill="#686868"/>
<rect x="959.8" y="655" width="14" height="9" fill="#686868"/>
<rect x="982.2" y="655" width="14" height="9" fill="#686868"/>
<rect x="1004.6" y="655" width="14" height="9" fill="#686868"/>
<rect x="1027" y="655" width="14" height="9" fill="#686868"/>
<rect x="1049.4" y="655" width="14" height="9" fill="#686868"/>
<rect x="1071.8" y="655" width="14" height="9" fill="#686868"/>
<rect x="1094.2" y="655" width="14" height="9" fill="#686868"/>
<rect x="566" y="667" width="546.5" height="39.6" fill="#464646"/>
<rect x="568" y="669" width="23.1" height="35.6" fill="#5e5e5e"/>
<rect x="566" y="668" width="84.6" height="37.6" fill="#060606"/>
<rect x="601.5" y="668" width="4" height="37.6" fill="#1e1e1e"/>
<rect x="653.6" y="669" width="27.1" height="35.6" fill="#5e5e5e"/>
<rect x="683.2" y="668" width="57" height="37.6" fill="#060606"/>
<rect x="707.1" y="668" width="4" height="37.6" fill="#1e1e1e"/>
<rect x="743.2" y="669" width="27.1" height="35.6" fill="#5e5e5e"/>
<rect x="772.8" y="668" width="57" height="37.6" fill="#060606"/>
<rect x="796.7" y="668" width="4" height="37.6" fill="#1e1e1e"/>
<rect x="832.8" y="669" width="27.1" height="35.6" fill="#5e5e5e"/>
<rect x="862.4" y="668" width="57" height="37.6" fill="#060606"/>
<rect x="886.3" y="668" width="4" height="37.6" fill="#1e1e1e"/>
<rect x="922.4" y="669" width="27.1" height="35.6" fill="#5e5e5e"/>
<rect x="952" y="668" width="57" height="37.6" fill="#060606"/>
<rect x="975.9" y="668" width="4" height="37.6" fill="#1e1e1e"/>
<rect x="1012" y="669" width="27.1" height="35.6" fill="#5e5e5e"/>
<rect x="1041.6" y="668" width="69.4" height="37.6" fill="#060606"/>
<rect x="1070.7" y="668" width="4" height="37.6" fill="#1e1e1e"/>
<rect x="1101.6" y="669" width="9.4" height="35.6" fill="#5e5e5e"/>
<rect x="552" y="706.1" width="561" height="31" fill="#b4b4b4"/>
<rect x="552" y="710.1" width="54.8" height="22.5" rx="5" fill="#eeeeee"/>
<rect x="609.8" y="712.1" width="26" height="17.5" fill="#989898"/>
<rect x="639.4" y="710.1" width="58" height="22.5" rx="5" fill="#eeeeee"/>
<rect x="700.4" y="712.1" width="26" height="17.5" fill="#989898"/>
<rect x="730" y="710.1" width="58" height="22.5" rx="5" fill="#eeeeee"/>
<rect x="791" y="712.1" width="26" height="17.5" fill="#989898"/>
<rect x="820.6" y="710.1" width="58" height="22.5" rx="5" fill="#eeeeee"/>
<rect x="881.6" y="712.1" width="26" height="17.5" fill="#989898"/>
<rect x="911.2" y="710.1" width="58" height="22.5" rx="5" fill="#eeeeee"/>
<rect x="972.2" y="712.1" width="26" height="17.5" fill="#989898"/>
<rect x="1001.8" y="710.1" width="58" height="22.5" rx="5" fill="#eeeeee"/>
<rect x="1062.8" y="712.1" width="26" height="17.5" fill="#989898"/>
<rect x="1092.4" y="710.1" width="17.6" height="22.5" rx="5" fill="#eeeeee"/>
<rect x="568" y="736" width="544" height="19" fill="#767676"/>
<rect x="579" y="740.5" width="14" height="9" fill="#686868"/>
<rect x="601.4" y="740.5" width="14" height="9" fill="#686868"/>
<rect x="623.8" y="740.5" width="14" height="9" fill="#686868"/>
<rect x="646.2" y="740.5" width="14" height="9" fill="#686868"/>
<rect x="668.6" y="740.5" width="14" height="9" fill="#686868"/>
<rect x="691" y="740.5" width="14" height="9" fill="#686868"/>
<rect x="713.4" y="740.5" width="14" height="9" fill="#686868"/>
<rect x="735.8" y="740.5" width="14" height="9" fill="#686868"/>
<rect x="758.2" y="740.5" width="14" height="9" fill="#686868"/>
<rect x="780.6" y="740.5" width="14" height="9" fill="#686868"/>
<rect x="803" y="740.5" width="14" height="9" fill="#686868"/>
<rect x="825.4" y="740.5" width="14" height="9" fill="#686868"/>
<rect x="847.8" y="740.5" width="14" height="9" fill="#686868"/>
<rect x="870.2" y="740.5" width="14" height="9" fill="#686868"/>
<rect x="892.6" y="740.5" width="14" height="9" fill="#686868"/>
<rect x="915" y="740.5" width="14" height="9" fill="#686868"/>
<rect x="937.4" y="740.5" width="14" height="9" fill="#686868"/>
<rect x="959.8" y="740.5" width="14" height="9" fill="#686868"/>
<rect x="982.2" y="740.5" width="14" height="9" fill="#686868"/>
<rect x="1004.6" y="740.5" width="14" height="9" fill="#686868"/>
<rect x="1027" y="740.5" width="14" height="9" fill="#686868"/>
<rect x="1049.4" y="740.5" width="14" height="9" fill="#686868"/>
<rect x="1071.8" y="740.5" width="14" height="9" fill="#686868"/>
<rect x="1094.2" y="740.5" width="14" height="9" fill="#686868"/>
<rect x="566" y="752.5" width="546.5" height="39.6" fill="#464646"/>
<rect x="580.2" y="754.5" width="27.1" height="35.6" fill="#5e5e5e"/>
<rect x="583" y="753.5" width="83.8" height="37.6" fill="#060606"/>
<rect x="618.2" y="753.5" width="4" height="37.6" fill="#1e1e1e"/>
<rect x="669.8" y="754.5" width="27.1" height="35.6" fill="#5e5e5e"/>
<rect x="699.4" y="753.5" width="57" height="37.6" fill="#060606"/>
<rect x="723.3" y="753.5" width="4" height="37.6" fill="#1e1e1e"/>
<rect x="759.4" y="754.5" width="27.1" height="35.6" fill="#5e5e5e"/>
<rect x="789" y="753.5" width="57" height="37.6" fill="#060606"/>
<rect x="812.9" y="753.5" width="4" height="37.6" fill="#1e1e1e"/>
<rect x="849" y="754.5" width="27.1" height="35.6" fill="#5e5e5e"/>
<rect x="878.6" y="753.5" width="57" height="37.6" fill="#060606"/>
<rect x="902.5" y="753.5" width="4" height="37.6" fill="#1e1e1e"/>
<rect x="938.6" y="754.5" width="27.1" height="35.6" fill="#5e5e5e"/>
<rect x="968.2" y="753.5" width="57" height="37.6" fill="#060606"/>
<rect x="992.1" y="753.5" width="4" height="37.6" fill="#1e1e1e"/>
<rect x="1028.2" y="754.5" width="27.1" height="35.6" fill="#5e5e5e"/>
<rect x="1057.8" y="753.5" width="53.2" height="37.6" fill="#060606"/>
<rect x="1080.1" y="753.5" width="4" height="37.6" fill="#1e1e1e"/>
<rect x="552" y="791.6" width="561" height="31" fill="#b4b4b4"/>
<rect x="552" y="795.6" width="54.8" height="22.5" rx="5" fill="#eeeeee"/>
<rect x="609.8" y="797.6" width="26" height="17.5" fill="#989898"/>
<rect x="639.4" y="795.6" width="58" height="22.5" rx="5" fill="#eeeeee"/>
<rect x="700.4" y="797.6" width="26" height="17.5" fill="#989898"/>
<rect x="730" y="795.6" width="58" height="22.5" rx="5" fill="#eeeeee"/>
<rect x="791" y="797.6" width="26" height="17.5" fill="#989898"/>
<rect x="820.6" y="795.6" width="58" height="22.5" rx="5" fill="#eeeeee"/>
<rect x="881.6" y="797.6" width="26" height="17.5" fill="#989898"/>
<rect x="911.2" y="795.6" width="58" height="22.5" rx="5" fill="#eeeeee"/>
<rect x="972.2" y="797.6" width="26" height="17.5" fill="#989898"/>
<rect x="1001.8" y="795.6" width="58" height="22.5" rx="5" fill="#eeeeee"/>
<rect x="1062.8" y="797.6" width="26" height="17.5" fill="#989898"/>
<rect x="1092.4" y="795.6" width="17.6" height="22.5" rx="5" fill="#eeeeee"/>
<rect x="568" y="825" width="544" height="19" fill="#767676"/>
<rect x="579" y="829.5" width="14" height="9" fill="#686868"/>
<rect x="601.4" y="829.5" width="14" height="9" fill="#686868"/>
<rect x="623.8" y="829.5" width="14" height="9" fill="#686868"/>
<rect x="646.2" y="829.5" width="14" height="9" fill="#686868"/>
<rect x="668.6" y="829.5" width="14" height="9" fill="#686868"/>
<rect x="691" y="829.5" width="14" height="9" fill="#686868"/>
<rect x="713.4" y="829.5" width="14" height="9" fill="#686868"/>
<rect x="735.8" y="829.5" width="14" height="9" fill="#686868"/>
<rect x="758.2" y="829.5" width="14" height="9" fill="#686868"/>
<rect x="780.6" y="829.5" width="14" height="9" fill="#686868"/>
<rect x="803" y="829.5" width="14" height="9" fill="#686868"/>
<rect x="825.4" y="829.5" width="14" height="9" fill="#686868"/>
<rect x="847.8" y="829.5" width="14" height="9" fill="#686868"/>
<rect x="870.2" y="829.5" width="14" height="9" fill="#686868"/>
<rect x="892.6" y="829.5" width="14" height="9" fill="#686868"/>
<rect x="915" y="829.5" width="14" height="9" fill="#686868"/>
<rect x="937.4" y="829.5" width="14" height="9" fill="#686868"/>
<rect x="959.8" y="829.5" width="14" height="9" fill="#686868"/>
<rect x="982.2" y="829.5" width="14" height="9" fill="#686868"/>
<rect x="1004.6" y="829.5" width="14" height="9" fill="#686868"/>
<rect x="1027" y="829.5" width="14" height="9" fill="#686868"/>
<rect x="1049.4" y="829.5" width="14" height="9" fill="#686868"/>
<rect x="1071.8" y="829.5" width="14" height="9" fill="#686868"/>
<rect x="1094.2" y="829.5" width="14" height="9" fill="#686868"/>
<rect x="566" y="841.5" width="546.5" height="39.6" fill="#464646"/>
<rect x="568" y="843.5" width="23.1" height="35.6" fill="#5e5e5e"/>
<rect x="566" y="842.5" width="84.6" height="37.6" fill="#060606"/>
<rect x="601.5" y="842.5" width="4" height="37.6" fill="#1e1e1e"/>
<rect x="653.6" y="843.5" width="27.1" height="35.6" fill="#5e5e5e"/>
<rect x="683.2" y="842.5" width="57" height="37.6" fill="#060606"/>
<rect x="707.1" y="842.5" width="4" height="37.6" fill="#1e1e1e"/>
<rect x="743.2" y="843.5" width="27.1" height="35.6" fill="#5e5e5e"/>
<rect x="772.8" y="842.5" width="57" height="37.6" fill="#060606"/>
<rect x="796.7" y="842.5" width="4" height="37.6" fill="#1e1e1e"/>
<rect x="832.8" y="843.5" width="27.1" height="35.6" fill="#5e5e5e"/>
<rect x="862.4" y="842.5" width="57" height="37.6" fill="#060606"/>
<rect x="886.3" y="842.5" width="4" height="37.6" fill="#1e1e1e"/>
<rect x="922.4" y="843.5" width="27.1" height="35.6" fill="#5e5e5e"/>
<rect x="952" y="842.5" width="57" height="37.6" fill="#060606"/>
<rect x="975.9" y="842.5" width="4" height="37.6" fill="#1e1e1e"/>
<rect x="1012" y="843.5" width="27.1" height="35.6" fill="#5e5e5e"/>
<rect x="1041.6" y="842.5" width="69.4" height="37.6" fill="#060606"/>
<rect x="1070.7" y="842.5" width="4" height="37.6" fill="#1e1e1e"/>
<rect x="1101.6" y="843.5" width="9.4" height="35.6" fill="#5e5e5e"/>
<rect x="552" y="880.6" width="561" height="31" fill="#b4b4b4"/>
<rect x="552" y="884.6" width="54.8" height="22.5" rx="5" fill="#eeeeee"/>
<rect x="609.8" y="886.6" width="26" height="17.5" fill="#989898"/>
<rect x="639.4" y="884.6" width="58" height="22.5" rx="5" fill="#eeeeee"/>
<rect x="700.4" y="886.6" width="26" height="17.5" fill="#989898"/>
<rect x="730" y="884.6" width="58" height="22.5" rx="5" fill="#eeeeee"/>
<rect x="791" y="886.6" width="26" height="17.5" fill="#989898"/>
<rect x="820.6" y="884.6" width="58" height="22.5" rx="5" fill="#eeeeee"/>
<rect x="881.6" y="886.6" width="26" height="17.5" fill="#989898"/>
<rect x="911.2" y="884.6" width="58" height="22.5" rx="5" fill="#eeeeee"/>
<rect x="972.2" y="886.6" width="26" height="17.5" fill="#989898"/>
<rect x="1001.8" y="884.6" width="58" height="22.5" rx="5" fill="#eeeeee"/>
<rect x="1062.8" y="886.6" width="26" height="17.5" fill="#989898"/>
<rect x="1092.4" y="884.6" width="17.6" height="22.5" rx="5" fill="#eeeeee"/>
<rect x="568" y="909.5" width="544" height="19" fill="#767676"/>
<rect x="579" y="914" width="14" height="9" fill="#686868"/>
<rect x="601.4" y="914" width="14" height="9" fill="#686868"/>
<rect x="623.8" y="914" width="14" height="9" fill="#686868"/>
<rect x="646.2" y="914" width="14" height="9" fill="#686868"/>
<rect x="668.6" y="914" width="14" height="9" fill="#686868"/>
<rect x="691" y="914" width="14" height="9" fill="#686868"/>
<rect x="713.4" y="914" width="14" height="9" fill="#686868"/>
<rect x="735.8" y="914" width="14" height="9" fill="#686868"/>
<rect x="758.2" y="914" width="14" height="9" fill="#686868"/>
<rect x="780.6" y="914" width="14" height="9" fill="#686868"/>
<rect x="803" y="914" width="14" height="9" fill="#686868"/>
<rect x="825.4" y="914" width="14" height="9" fill="#686868"/>
<rect x="847.8" y="914" width="14" height="9" fill="#686868"/>
<rect x="870.2" y="914" width="14" height="9" fill="#686868"/>
<rect x="892.6" y="914" width="14" height="9" fill="#686868"/>
<rect x="915" y="914" width="14" height="9" fill="#686868"/>
<rect x="937.4" y="914" width="14" height="9" fill="#686868"/>
<rect x="959.8" y="914" width="14" height="9" fill="#686868"/>
<rect x="982.2" y="914" width="14" height="9" fill="#686868"/>
<rect x="1004.6" y="914" width="14" height="9" fill="#686868"/>
<rect x="1027" y="914" width="14" height="9" fill="#686868"/>
<rect x="1049.4" y="914" width="14" height="9" fill="#686868"/>
<rect x="1071.8" y="914" width="14" height="9" fill="#686868"/>
<rect x="1094.2" y="914" width="14" height="9" fill="#686868"/>
<rect x="566" y="926" width="546.5" height="39.6" fill="#464646"/>
<rect x="580.2" y="928" width="27.1" height="35.6" fill="#5e5e5e"/>
<rect x="583" y="927" width="83.8" height="37.6" fill="#060606"/>
<rect x="618.2" y="927" width="4" height="37.6" fill="#1e1e1e"/>
<rect x="669.8" y="928" width="27.1" height="35.6" fill="#5e5e5e"/>
<rect x="699.4" y="927" width="57" height="37.6" fill="#060606"/>
<rect x="723.3" y="927" width="4" height="37.6" fill="#1e1e1e"/>
<rect x="759.4" y="928" width="27.1" height="35.6" fill="#5e5e5e"/>
<rect x="789" y="927" width="57" height="37.6" fill="#060606"/>
<rect x="812.9" y="927" width="4" height="37.6" fill="#1e1e1e"/>
<rect x="849" y="928" width="27.1" height="35.6" fill="#5e5e5e"/>
<rect x="878.6" y="927" width="57" height="37.6" fill="#060606"/>
<rect x="902.5" y="927" width="4" height="37.6" fill="#1e1e1e"/>
<rect x="938.6" y="928" width="27.1" height="35.6" fill="#5e5e5e"/>
<rect x="968.2" y="927" width="57" height="37.6" fill="#060606"/>
<rect x="992.1" y="927" width="4" height="37.6" fill="#1e1e1e"/>
<rect x="1028.2" y="928" width="27.1" height="35.6" fill="#5e5e5e"/>
<rect x="1057.8" y="927" width="53.2" height="37.6" fill="#060606"/>
<rect x="1080.1" y="927" width="4" height="37.6" fill="#1e1e1e"/>
<rect x="497" y="486.7" width="70" height="51" fill="#a8a8a8"/>
<rect x="504" y="486.7" width="6" height="51" fill="#f4f4f4"/>
<rect x="526" y="486.7" width="6" height="51" fill="#f4f4f4"/>
<rect x="546.5" y="486.7" width="6" height="51" fill="#f4f4f4"/>
<rect x="560.5" y="486.7" width="6" height="51" fill="#f4f4f4"/>
<rect x="497" y="537.7" width="112" height="30" fill="#cecece"/>
<rect x="521.5" y="543.7" width="29.5" height="19" fill="#8e8e8e"/>
<rect x="553" y="541.7" width="53" height="22" fill="#e4e4e4"/>
<rect x="609" y="541.7" width="31.5" height="22" fill="#707070"/>
<rect x="609.5" y="543.7" width="10.5" height="17" fill="#484848"/>
<rect x="628" y="543.7" width="11.5" height="17" fill="#484848"/>
<rect x="497" y="571.3" width="70" height="51" fill="#a8a8a8"/>
<rect x="504" y="571.3" width="6" height="51" fill="#f4f4f4"/>
<rect x="526" y="571.3" width="6" height="51" fill="#f4f4f4"/>
<rect x="546.5" y="571.3" width="6" height="51" fill="#f4f4f4"/>
<rect x="560.5" y="571.3" width="6" height="51" fill="#f4f4f4"/>
<rect x="497" y="622.3" width="112" height="30" fill="#cecece"/>
<rect x="521.5" y="628.3" width="29.5" height="19" fill="#8e8e8e"/>
<rect x="553" y="626.3" width="53" height="22" fill="#e4e4e4"/>
<rect x="609" y="626.3" width="31.5" height="22" fill="#707070"/>
<rect x="609.5" y="628.3" width="10.5" height="17" fill="#484848"/>
<rect x="628" y="628.3" width="11.5" height="17" fill="#484848"/>
<rect x="497" y="659" width="70" height="51" fill="#a8a8a8"/>
<rect x="504" y="659" width="6" height="51" fill="#f4f4f4"/>
<rect x="526" y="659" width="6" height="51" fill="#f4f4f4"/>
<rect x="546.5" y="659" width="6" height="51" fill="#f4f4f4"/>
<rect x="560.5" y="659" width="6" height="51" fill="#f4f4f4"/>
<rect x="497" y="710" width="112" height="30" fill="#cecece"/>
<rect x="521.5" y="716" width="29.5" height="19" fill="#8e8e8e"/>
<rect x="553" y="714" width="53" height="22" fill="#e4e4e4"/>
<rect x="609" y="714" width="31.5" height="22" fill="#707070"/>
<rect x="609.5" y="716" width="10.5" height="17" fill="#484848"/>
<rect x="628" y="716" width="11.5" height="17" fill="#484848"/>
<rect x="497" y="744.5" width="70" height="51" fill="#a8a8a8"/>
<rect x="504" y="744.5" width="6" height="51" fill="#f4f4f4"/>
<rect x="526" y="744.5" width="6" height="51" fill="#f4f4f4"/>
<rect x="546.5" y="744.5" width="6" height="51" fill="#f4f4f4"/>
<rect x="560.5" y="744.5" width="6" height="51" fill="#f4f4f4"/>
<rect x="497" y="795.5" width="112" height="30" fill="#cecece"/>
<rect x="521.5" y="801.5" width="29.5" height="19" fill="#8e8e8e"/>
<rect x="553" y="799.5" width="53" height="22" fill="#e4e4e4"/>
<rect x="609" y="799.5" width="31.5" height="22" fill="#707070"/>
<rect x="609.5" y="801.5" width="10.5" height="17" fill="#484848"/>
<rect x="628" y="801.5" width="11.5" height="17" fill="#484848"/>
<rect x="497" y="833.5" width="70" height="51" fill="#a8a8a8"/>
<rect x="504" y="833.5" width="6" height="51" fill="#f4f4f4"/>
<rect x="526" y="833.5" width="6" height="51" fill="#f4f4f4"/>
<rect x="546.5" y="833.5" width="6" height="51" fill="#f4f4f4"/>
<rect x="560.5" y="833.5" width="6" height="51" fill="#f4f4f4"/>
<rect x="497" y="884.5" width="112" height="30" fill="#cecece"/>
<rect x="521.5" y="890.5" width="29.5" height="19" fill="#8e8e8e"/>
<rect x="553" y="888.5" width="53" height="22" fill="#e4e4e4"/>
<rect x="609" y="888.5" width="31.5" height="22" fill="#707070"/>
<rect x="609.5" y="890.5" width="10.5" height="17" fill="#484848"/>
<rect x="628" y="890.5" width="11.5" height="17" fill="#484848"/>
<rect x="497" y="918" width="70" height="51" fill="#a8a8a8"/>
<rect x="504" y="918" width="6" height="51" fill="#f4f4f4"/>
<rect x="526" y="918" width="6" height="51" fill="#f4f4f4"/>
<rect x="546.5" y="918" width="6" height="51" fill="#f4f4f4"/>
<rect x="560.5" y="918" width="6" height="51" fill="#f4f4f4"/>
<rect x="497" y="969" width="112" height="30" fill="#cecece"/>
<rect x="521.5" y="975" width="29.5" height="19" fill="#8e8e8e"/>
<rect x="553" y="973" width="53" height="22" fill="#e4e4e4"/>
<rect x="609" y="973" width="31.5" height="22" fill="#707070"/>
<rect x="609.5" y="975" width="10.5" height="17" fill="#484848"/>
<rect x="628" y="975" width="11.5" height="17" fill="#484848"/>
</g>
<rect x="1112.5" y="486" width="18.5" height="461.7" fill="#dadada"/>
<rect x="1127.5" y="486" width="3.5" height="461.7" fill="#aaaaaa"/>
</g></g>
<rect x="20" y="19" width="3" height="933" fill="#FF0000"/>
<rect x="20" y="19" width="1170" height="3" fill="#FF0000"/>
<rect x="1186" y="19" width="4" height="933" fill="#FF0000"/>
<rect x="20" y="949" width="1170" height="3" fill="#FF0000"/>
<path d="M254.5,19 V952 M488,19 V952 M721,19 V952 M954.5,19 V952 M20,253 H1190 M20,485.6 H1190 M20,718 H1190" stroke="#FF0000" stroke-width="3.9" fill="none"/>
<circle cx="911.4" cy="209.5" r="39.2" fill="#fff" stroke="#000" stroke-width="1.7" stroke-dasharray="1.7 1.7"/>
<text x="912.6" y="230" class="num" text-anchor="middle">1</text>
<circle cx="911.4" cy="443.5" r="39.2" fill="#fff" stroke="#000" stroke-width="1.7" stroke-dasharray="1.7 1.7"/>
<text x="912.6" y="464" class="num" text-anchor="middle">2</text>
<circle cx="212" cy="908.7" r="39.2" fill="#fff" stroke="#000" stroke-width="1.7" stroke-dasharray="1.7 1.7"/>
<text x="213.2" y="929.2" class="num" text-anchor="middle">3</text>
<text x="606.5" y="1017" class="cap" text-anchor="middle">(a)</text>
<text x="1823" y="1017" class="cap" text-anchor="middle">(b)</text>
<text x="1225.7" y="2441.3" class="cap" text-anchor="middle">(c)</text>
<path d="M1260.2,245.7 1261.2,230.3 1262.5,154.6 1264.8,121.7 1266.5,97 1268.4,97 1270.1,57.6 1272.4,57.6 1274,62.5 1275.7,75.7 1276.7,20.7 1279.3,20.7 1279.9,88.8 1282.2,148 1284.2,154.6 1286.2,167.8 1288.2,199 1290.5,200.7 1292.1,207.3 1294.4,190.8 1296.4,189.2 1298.7,194.1 1300.3,213.8 1302.6,235.2 1306.9,235.2 1307.2,245.7Z" fill="#0072BD" stroke="#0072BD" stroke-width="0.6" stroke-linejoin="miter"/>
<rect x="1318.1" y="235.5" width="2.6" height="10.9" fill="#0072BD"/>
<path d="M1215,19 V246.4" stroke="#262626" stroke-width="3.9" fill="none"/>
<path d="M1448.5,19 V246.4" stroke="#262626" stroke-width="2.9" fill="none"/>
<path d="M1213,20.5 H1450" stroke="#262626" stroke-width="3"/>
<path d="M1213,246.4 H1450" stroke="#0072BD" stroke-width="3"/>
<path d="M1331.8,21.9 v2.6 M1331.8,245.1 v-2.6" stroke="#262626" stroke-width="2.4" fill="none"/>
<path d="M1213,148.4 H1450" stroke="#FF0000" stroke-width="3.2"/>
<path d="M1505.3,245.7 1506.6,197.4 1508.6,148 1510.9,131.6 1511.5,20.7 1513.8,20.7 1514.2,87.2 1515.8,64.2 1517.8,47.7 1519.8,49.3 1520.4,20.7 1522.7,20.7 1523.4,60.9 1525.7,65.8 1527.7,67.4 1529,98.7 1530.6,111.9 1532.3,138.2 1533.9,115.1 1536.2,113.5 1538.8,95.4 1540.5,92.8 1542.8,93.8 1544.1,105.3 1545.4,98.7 1548.1,98 1549.4,128.3 1551.4,157.9 1552.7,200.7 1555.3,204 1556.9,202.3 1558.6,213.8 1561.2,217.1 1563.5,227 1565.8,230.3 1568.5,235.2 1571.1,240.2 1571.7,245.7Z" fill="#0072BD" stroke="#0072BD" stroke-width="0.6" stroke-linejoin="miter"/>
<path d="M1459,19 V246.4" stroke="#262626" stroke-width="3.9" fill="none"/>
<path d="M1692.3,19 V246.4" stroke="#262626" stroke-width="2.9" fill="none"/>
<path d="M1457,20.5 H1693.8" stroke="#262626" stroke-width="3"/>
<path d="M1457,246.4 H1693.8" stroke="#0072BD" stroke-width="3"/>
<path d="M1575.7,21.9 v2.6 M1575.7,245.1 v-2.6" stroke="#262626" stroke-width="2.4" fill="none"/>
<path d="M1457,144.4 H1693.8" stroke="#FF0000" stroke-width="3.2"/>
<path d="M1749.1,246.3 1750.2,213.1 1751.8,181.1 1753.4,159.8 1755,133.2 1756,87.9 1757.6,61.3 1759.8,60.7 1761.4,59.9 1762.4,20.5 1765.6,20.5 1766.4,29.3 1767.8,37.3 1770.4,37.8 1771,103.9 1773.6,104.4 1774.2,133.2 1775.8,143.8 1776.8,159.8 1778.4,167.8 1780.5,169.1 1781.6,179.8 1782.7,173.1 1784.3,173.1 1785.3,159.8 1788,159.3 1789.1,186.4 1790.7,191.7 1791.7,199.7 1792.8,189.1 1794.4,173.1 1797.1,172.6 1798.1,187.8 1799.7,186.4 1800.8,181.1 1802.4,180.6 1804,179 1806.1,178.4 1808.2,177.4 1809.8,181.1 1810.9,165.1 1813,164.6 1814.1,181.1 1816.2,179.8 1818.4,181.1 1818.9,155.8 1820.5,155.3 1821,175.8 1822.6,194.4 1824.2,174.4 1826.4,173.1 1828,171.8 1829.6,171 1830.1,222.4 1832.2,223.2 1834.3,222.4 1835.4,212 1837,211.7 1838.1,222.4 1840.2,223.2 1841.8,223.7 1843.4,233.8 1845,234.4 1845.5,223.7 1848.2,223.2 1849.3,233 1850.9,222.6 1851.9,222.1 1853,213.6 1854.3,213.1 1855.1,233.8 1857.2,234.4 1859.9,233.8 1861,238.4 1862,246.3Z" fill="#0072BD" stroke="#0072BD" stroke-width="0.6" stroke-linejoin="miter"/>
<rect x="1864.2" y="233.8" width="8.5" height="12.6" fill="#0072BD"/>
<rect x="1878.6" y="233.8" width="8" height="12.6" fill="#0072BD"/>
<rect x="1890.3" y="233.8" width="2.7" height="12.6" fill="#0072BD"/>
<rect x="1896.4" y="233.8" width="2.9" height="12.6" fill="#0072BD"/>
<rect x="1901.7" y="233.8" width="4" height="12.6" fill="#0072BD"/>
<rect x="1918.5" y="233.8" width="5.3" height="12.6" fill="#0072BD"/>
<rect x="1931.8" y="223.2" width="2.7" height="23.2" fill="#0072BD"/>
<path d="M1702.5,19 V246.4" stroke="#262626" stroke-width="3.9" fill="none"/>
<path d="M1936.5,19 V246.4" stroke="#262626" stroke-width="2.9" fill="none"/>
<path d="M1700.5,20.5 H1938" stroke="#262626" stroke-width="3"/>
<path d="M1700.5,246.4 H1938" stroke="#0072BD" stroke-width="3"/>
<path d="M1819.5,21.9 v2.6 M1819.5,245.1 v-2.6" stroke="#262626" stroke-width="2.4" fill="none"/>
<path d="M1700.5,131.8 H1938" stroke="#FF0000" stroke-width="3.2"/>
<path d="M1994.1,246.3 1995.2,197.1 1996.8,165.1 1998.4,142.5 2000.5,141.1 2001.6,145.1 2003.2,145.9 2004.3,139.8 2005.3,122.5 2007.5,121.4 2008,170.4 2009,194.4 2010.6,201.1 2010.9,246.3Z" fill="#0072BD" stroke="#0072BD" stroke-width="0.6" stroke-linejoin="miter"/>
<path d="M1947,19 V246.4" stroke="#262626" stroke-width="3.9" fill="none"/>
<path d="M2183.8,19 V246.4" stroke="#262626" stroke-width="2.9" fill="none"/>
<path d="M1945,20.5 H2185.2" stroke="#FF0000" stroke-width="3"/>
<path d="M1945,246.4 H2185.2" stroke="#0072BD" stroke-width="3"/>
<path d="M2065.4,21.9 v2.6 M2065.4,245.1 v-2.6" stroke="#262626" stroke-width="2.4" fill="none"/>
<path d="M2241.1,245.5 2242.4,230.7 2243.7,191.1 2245.7,141.7 2247.7,112 2249.3,95.6 2252.6,94.6 2253.6,112 2254.9,138.4 2256.9,177.9 2258.2,201 2260.5,201.7 2261.2,245.5Z" fill="#0072BD" stroke="#0072BD" stroke-width="0.6" stroke-linejoin="miter"/>
<rect x="2233.2" y="222.4" width="2.3" height="24" fill="#0072BD"/>
<path d="M2194.3,19 V246.4" stroke="#262626" stroke-width="3.9" fill="none"/>
<path d="M2427.3,19 V246.4" stroke="#262626" stroke-width="2.9" fill="none"/>
<path d="M2192.4,20.5 H2428.8" stroke="#FF0000" stroke-width="3"/>
<path d="M2192.4,246.4 H2428.8" stroke="#0072BD" stroke-width="3"/>
<path d="M2310.8,21.9 v2.6 M2310.8,245.1 v-2.6" stroke="#262626" stroke-width="2.4" fill="none"/>
<path d="M1270.1,481 1271.4,427.7 1273,361.9 1275,315.8 1277.3,312.5 1279.6,311.9 1280.6,345.4 1282.2,319.1 1284.2,319.8 1285.2,361.9 1286.5,368.5 1287.5,417.8 1288.8,460.6 1289.2,481Z" fill="#0072BD" stroke="#0072BD" stroke-width="0.6" stroke-linejoin="miter"/>
<rect x="1256.3" y="457.3" width="2.3" height="23.9" fill="#0072BD"/>
<path d="M1215,257 V481.2" stroke="#262626" stroke-width="3.9" fill="none"/>
<path d="M1448.5,257 V481.2" stroke="#262626" stroke-width="2.9" fill="none"/>
<path d="M1213,258.5 H1450" stroke="#FF0000" stroke-width="3"/>
<path d="M1213,481.2 H1450" stroke="#0072BD" stroke-width="3"/>
<path d="M1331.8,259.9 v2.6 M1331.8,479.8 v-2.6" stroke="#262626" stroke-width="2.4" fill="none"/>
<path d="M1514.8,481 1516.5,450.7 1519.1,427.7 1522.4,394.8 1525.7,378.3 1527.7,315.8 1529,282.9 1531.6,283.6 1532.9,302.7 1534.9,263.2 1536.2,258.6 1538.2,258.6 1539.5,269.8 1541.5,289.5 1543.5,312.5 1546.1,314.2 1549.4,315.8 1550.7,332.3 1553.3,333.9 1554.6,361.9 1556.6,398.1 1559.2,399.7 1561.2,411.2 1563.2,450.7 1565.8,452.3 1567.8,453.3 1569.1,442.5 1571.7,440.8 1574.4,439.2 1577,437.5 1578.3,452.3 1580.3,437.5 1581.6,394.8 1582.9,357.9 1585.6,357.3 1586.6,388.2 1588.2,417.8 1589.8,440.8 1591.5,454 1593.5,463.9 1594.1,452.3 1596.7,452.3 1597.4,465.5 1598.1,481Z" fill="#0072BD" stroke="#0072BD" stroke-width="0.6" stroke-linejoin="miter"/>
<rect x="1602" y="465.5" width="3.3" height="15.7" fill="#0072BD"/>
<rect x="1607.3" y="453.3" width="3.3" height="27.9" fill="#0072BD"/>
<rect x="1611.2" y="465.5" width="3.9" height="15.7" fill="#0072BD"/>
<rect x="1620.4" y="466.5" width="11.2" height="14.7" fill="#0072BD"/>
<rect x="1633.6" y="466.5" width="3.3" height="14.7" fill="#0072BD"/>
<rect x="1640.2" y="466.5" width="2.6" height="14.7" fill="#0072BD"/>
<rect x="1645.4" y="466.5" width="3" height="14.7" fill="#0072BD"/>
<rect x="1677" y="466.5" width="2.6" height="14.7" fill="#0072BD"/>
<rect x="1685.2" y="466.5" width="3.6" height="14.7" fill="#0072BD"/>
<path d="M1459,257 V481.2" stroke="#262626" stroke-width="3.9" fill="none"/>
<path d="M1692.3,257 V481.2" stroke="#262626" stroke-width="2.9" fill="none"/>
<path d="M1457,258.5 H1693.8" stroke="#262626" stroke-width="3"/>
<path d="M1457,481.2 H1693.8" stroke="#0072BD" stroke-width="3"/>
<path d="M1575.7,259.9 v2.6 M1575.7,479.8 v-2.6" stroke="#262626" stroke-width="2.4" fill="none"/>
<path d="M1457,342.5 H1693.8" stroke="#FF0000" stroke-width="3.2"/>
<path d="M1759.8,480.7 1761.4,466.1 1763.5,431.4 1765.6,383.5 1767.2,322.2 1768.3,258.5 1771,258.5 1771.5,265 1773.6,265.5 1774.2,295.6 1776.8,296.1 1777.9,315.6 1780.5,316.1 1781.6,343.6 1782.7,380.8 1783.2,351.5 1785.3,351 1786.4,362.2 1788,354.2 1790.1,353.7 1790.7,308.9 1792.8,308.4 1793.3,346.2 1794.4,298.3 1796.5,297.7 1797.6,289.8 1799.7,289.2 1800.8,346.2 1802.4,348.9 1804.5,350.2 1806.1,330.2 1807.7,323.6 1810.9,323.3 1814.1,323.8 1815.2,372.8 1816.8,336.9 1818.9,336.4 1819.4,364.9 1821,372.8 1822.1,383.5 1823.7,384.8 1824.8,411.5 1827.4,412.3 1828.5,424.8 1830.1,426.1 1831.1,443.4 1833.3,444.2 1834.3,467.4 1836.5,468.2 1839.1,467.7 1840.2,476.7 1841.3,467.7 1846.1,467.7 1847.1,476.7 1848.2,467.7 1851.4,467.7 1851.9,480.7Z" fill="#0072BD" stroke="#0072BD" stroke-width="0.6" stroke-linejoin="miter"/>
<path d="M1702.5,257 V481.2" stroke="#262626" stroke-width="3.9" fill="none"/>
<path d="M1936.5,257 V481.2" stroke="#262626" stroke-width="2.9" fill="none"/>
<path d="M1700.5,258.5 H1938" stroke="#262626" stroke-width="3"/>
<path d="M1700.5,481.2 H1938" stroke="#0072BD" stroke-width="3"/>
<path d="M1819.5,259.9 v2.6 M1819.5,479.8 v-2.6" stroke="#262626" stroke-width="2.4" fill="none"/>
<path d="M1700.5,358.5 H1938" stroke="#FF0000" stroke-width="3.2"/>
<path d="M2004.8,480.7 2006.4,468.7 2008,444.8 2010.1,426.1 2012.2,410.1 2013.8,372.8 2014.4,329.7 2016.5,330.2 2017.6,338.2 2020.2,337.7 2021.3,346.2 2022.9,364.9 2024.5,366.2 2025,396.8 2026.1,334.2 2028.2,333.7 2029.3,343.6 2030.9,342.2 2032,312.9 2033.6,312.4 2034.1,370.2 2035.7,322.2 2037.3,295.6 2037.8,258.5 2039.9,258.5 2040.5,274.3 2042.6,274.8 2043.1,307.6 2044.7,308.9 2045.8,340.9 2047.4,356.9 2049,364.9 2050.1,374.2 2054.9,373.6 2055.4,326.5 2057.5,326 2058.1,372.8 2059.7,377.6 2062.8,377.1 2063.9,359.5 2066.6,359 2067.1,407.5 2069.2,408.8 2070.8,410.1 2071.9,418.1 2073,434.1 2074.6,435.4 2075.1,468.2 2086.8,468.2 2087.1,480.7Z" fill="#0072BD" stroke="#0072BD" stroke-width="0.6" stroke-linejoin="miter"/>
<rect x="2094.3" y="468.2" width="2.4" height="13" fill="#0072BD"/>
<path d="M1947,257 V481.2" stroke="#262626" stroke-width="3.9" fill="none"/>
<path d="M2183.8,257 V481.2" stroke="#262626" stroke-width="2.9" fill="none"/>
<path d="M1945,258.5 H2185.2" stroke="#262626" stroke-width="3"/>
<path d="M1945,481.2 H2185.2" stroke="#0072BD" stroke-width="3"/>
<path d="M2065.4,259.9 v2.6 M2065.4,479.8 v-2.6" stroke="#262626" stroke-width="2.4" fill="none"/>
<path d="M1945,362.5 H2185.2" stroke="#FF0000" stroke-width="3.2"/>
<path d="M2246,480.1 2247,458 2250.3,457.3 2251.6,461.3 2253,428.4 2254.3,382.2 2256.3,369 2257.6,329.5 2259.2,299.8 2261.5,299.2 2262.2,365.7 2264.2,286.7 2264.8,283.4 2267.1,282.7 2268.1,322.9 2269.4,324.6 2270.1,355.9 2272.7,378.9 2275.4,382.2 2276.7,415.2 2278,392.1 2280,372.3 2280.6,312.4 2283.9,311.7 2284.6,336.1 2286.6,342.7 2287.9,362.5 2289.9,355.9 2291.2,369 2293.2,359.2 2295.8,355.9 2297.1,321.3 2299.1,320.6 2299.8,359.2 2301.1,375.6 2303.7,372.3 2305,357.5 2307,356.8 2307.7,392.1 2310.3,365.7 2312.3,365.1 2312.9,415.2 2316.2,416.8 2318.2,425.1 2319.5,458 2320.8,461.3 2321.2,480.1Z" fill="#0072BD" stroke="#0072BD" stroke-width="0.6" stroke-linejoin="miter"/>
<path d="M2194.3,257 V481.2" stroke="#262626" stroke-width="3.9" fill="none"/>
<path d="M2427.3,257 V481.2" stroke="#262626" stroke-width="2.9" fill="none"/>
<path d="M2192.4,258.5 H2428.8" stroke="#FF0000" stroke-width="3"/>
<path d="M2192.4,481.2 H2428.8" stroke="#0072BD" stroke-width="3"/>
<path d="M2310.8,259.9 v2.6 M2310.8,479.8 v-2.6" stroke="#262626" stroke-width="2.4" fill="none"/>
<path d="M1282.9,715.4 1284.2,693.7 1286.2,674 1288.2,662.5 1290.1,642.7 1292.8,641.1 1294.7,647.6 1297.4,601.6 1298.7,558.8 1300.7,545.7 1302.6,530.9 1304.6,528.6 1305.3,493.3 1307.2,493.3 1307.9,539.1 1311.2,539.7 1312.5,565.4 1313.8,575.3 1314.5,563.8 1316.8,563.1 1317.8,578.6 1319.1,634.5 1321.1,636.1 1322.4,641.1 1324.4,646 1326.3,654.2 1327.6,680.5 1329.6,683.8 1330.3,654.9 1332.9,654.2 1334.2,670.7 1336.9,671.3 1338.2,688.8 1340.8,689.8 1342.1,695.4 1344.8,697 1346.7,700.3 1348.7,702.9 1351.3,702.3 1352,715.4Z" fill="#0072BD" stroke="#0072BD" stroke-width="0.6" stroke-linejoin="miter"/>
<path d="M1215,491.8 V715.8" stroke="#262626" stroke-width="3.9" fill="none"/>
<path d="M1448.5,491.8 V715.8" stroke="#262626" stroke-width="2.9" fill="none"/>
<path d="M1213,493.3 H1450" stroke="#262626" stroke-width="3"/>
<path d="M1213,715.8 H1450" stroke="#0072BD" stroke-width="3"/>
<path d="M1331.8,494.7 v2.6 M1331.8,714.4 v-2.6" stroke="#262626" stroke-width="2.4" fill="none"/>
<path d="M1213,650.6 H1450" stroke="#FF0000" stroke-width="3.2"/>
<path d="M1529,715.4 1531,705.2 1533.6,697 1536.2,696.3 1538.8,687.1 1541.5,685.5 1543.5,674.6 1546.7,674 1548.1,697 1550.7,695.4 1552,704.2 1554.6,700.3 1557.3,697 1558.6,687.1 1561.2,686.5 1563.2,684.5 1565.8,685.5 1568.5,683.8 1571.1,683.2 1573.1,687.1 1574.4,674 1577,673.3 1579.6,672.3 1581.6,664.1 1582.9,647.6 1584.2,627.9 1586.2,601.6 1587.5,568.7 1588.9,535.8 1590.2,509.5 1591.5,493.3 1595.4,493.3 1596.1,618 1597.4,674 1598.1,715.4Z" fill="#0072BD" stroke="#0072BD" stroke-width="0.6" stroke-linejoin="miter"/>
<path d="M1459,491.8 V715.8" stroke="#262626" stroke-width="3.9" fill="none"/>
<path d="M1692.3,491.8 V715.8" stroke="#262626" stroke-width="2.9" fill="none"/>
<path d="M1457,493.3 H1693.8" stroke="#262626" stroke-width="3"/>
<path d="M1457,715.8 H1693.8" stroke="#0072BD" stroke-width="3"/>
<path d="M1575.7,494.7 v2.6 M1575.7,714.4 v-2.6" stroke="#262626" stroke-width="2.4" fill="none"/>
<path d="M1457,661.8 H1693.8" stroke="#FF0000" stroke-width="3.2"/>
<path d="M1752.9,715 1753.9,677.7 1755.5,656.4 1757.1,629.8 1758.2,605.8 1758.7,559.2 1761.4,558.7 1761.9,597.8 1763.5,599.2 1764.6,627.1 1765.6,645.8 1767.2,647.9 1769.4,645.8 1771.5,644.4 1773.1,647.9 1774.2,629.8 1775.8,628.5 1777.4,629.8 1778.4,636.4 1780.5,637.2 1782.1,637.8 1782.7,615.9 1784.8,615.4 1785.9,608.5 1787.5,607.2 1788,494 1790.1,494 1790.7,555.2 1792.3,553.9 1794.4,553.4 1795.5,568.5 1798.1,569.1 1798.7,613.8 1800.3,591.2 1802.9,590.4 1804,597.8 1805.6,599.2 1806.6,611.1 1808.2,584.5 1810.9,584 1812,569.9 1815.2,569.3 1816.2,563.2 1818.4,562.7 1818.9,510.5 1821.6,509.9 1822.1,581.9 1823.2,589.8 1824.8,591.2 1825.8,613.8 1827.4,614.3 1828,632.5 1832.7,631.9 1833.3,601.8 1835.4,601.3 1835.9,664.4 1837.5,680.4 1839.1,681.7 1840.2,700.4 1841.8,699 1843.9,699.6 1845,692.4 1846.6,699 1847.7,688.4 1849.3,687 1850.3,699 1852.5,699.6 1853.5,692.4 1856.7,693.2 1857.8,700.4 1861,700.6 1862,707 1863.6,707.6 1864.2,715Z" fill="#0072BD" stroke="#0072BD" stroke-width="0.6" stroke-linejoin="miter"/>
<path d="M1702.5,491.8 V715.8" stroke="#262626" stroke-width="3.9" fill="none"/>
<path d="M1936.5,491.8 V715.8" stroke="#262626" stroke-width="2.9" fill="none"/>
<path d="M1700.5,493.3 H1938" stroke="#262626" stroke-width="3"/>
<path d="M1700.5,715.8 H1938" stroke="#0072BD" stroke-width="3"/>
<path d="M1819.5,494.7 v2.6 M1819.5,714.4 v-2.6" stroke="#262626" stroke-width="2.4" fill="none"/>
<path d="M1700.5,639.4 H1938" stroke="#FF0000" stroke-width="3.2"/>
<path d="M1998.9,715 2000.5,691 2002.1,661.7 2003.7,643.1 2005.9,640.4 2006.4,620.5 2009,619.9 2010.1,608.5 2011.2,601.8 2012.8,601.3 2013.8,621.8 2015.4,623.1 2016.5,643.1 2018.1,660.4 2019.7,659.1 2021.3,645.8 2022.9,639.9 2025,639.4 2026.1,643.1 2027.2,621.8 2028.2,608.5 2029.3,587.2 2030.9,585.8 2032,555.2 2033,523.3 2035.1,521.9 2035.7,494 2037.3,494 2037.8,539.2 2039.4,540.6 2040.5,559.2 2042.6,560 2043.7,600.5 2045.3,613.8 2047.4,612.5 2049,615.1 2050.1,628.5 2053.8,629 2054.9,633.8 2055.9,629.8 2058.6,629.3 2059.7,645.8 2061.2,647.1 2062.3,656.4 2063.4,644.4 2064.4,643.1 2065,606.4 2066.6,605.8 2067.1,624.5 2068.2,617.8 2070.3,617.3 2071.4,629.8 2073.5,630.3 2074.6,667.1 2076.2,672.4 2077.8,683.1 2079.4,699 2081,712.3 2081.2,715Z" fill="#0072BD" stroke="#0072BD" stroke-width="0.6" stroke-linejoin="miter"/>
<path d="M1947,491.8 V715.8" stroke="#262626" stroke-width="3.9" fill="none"/>
<path d="M2183.8,491.8 V715.8" stroke="#262626" stroke-width="2.9" fill="none"/>
<path d="M1945,493.3 H2185.2" stroke="#262626" stroke-width="3"/>
<path d="M1945,715.8 H2185.2" stroke="#0072BD" stroke-width="3"/>
<path d="M2065.4,494.7 v2.6 M2065.4,714.4 v-2.6" stroke="#262626" stroke-width="2.4" fill="none"/>
<path d="M1945,655.1 H2185.2" stroke="#FF0000" stroke-width="3.2"/>
<path d="M2248.4,715.1 2249.7,697.4 2252.3,690.8 2253.6,657.8 2255.6,654.5 2256.9,611.7 2258.9,601.8 2260.2,567.2 2262.2,566.5 2262.8,578.7 2264.8,580.4 2266.8,578.7 2268.1,565.6 2270.8,564.9 2272.1,588.6 2274.1,568.9 2275.4,545.8 2278,544.1 2279.3,529.3 2281.3,499.7 2282,493.3 2283.9,493.3 2284.6,499.7 2287.2,500.3 2287.9,555.7 2289.9,521.1 2292.5,521.7 2293.8,568.9 2295.8,562.3 2297.1,524.4 2300.4,523.7 2301.1,555.7 2303.7,557.3 2305,588.6 2307,601.8 2308.3,624.9 2311,631.5 2312.3,615 2314.3,608.4 2316.2,605.1 2318.9,605.8 2320.2,624.9 2321.5,661.1 2323.5,674.3 2325.5,687.5 2329.4,689.1 2330.7,697.4 2332,705.6 2334.7,706.6 2335.3,715.1Z" fill="#0072BD" stroke="#0072BD" stroke-width="0.6" stroke-linejoin="miter"/>
<path d="M2194.3,491.8 V715.8" stroke="#262626" stroke-width="3.9" fill="none"/>
<path d="M2427.3,491.8 V715.8" stroke="#262626" stroke-width="2.9" fill="none"/>
<path d="M2192.4,493.3 H2428.8" stroke="#262626" stroke-width="3"/>
<path d="M2192.4,715.8 H2428.8" stroke="#0072BD" stroke-width="3"/>
<path d="M2310.8,494.7 v2.6 M2310.8,714.4 v-2.6" stroke="#262626" stroke-width="2.4" fill="none"/>
<path d="M2192.4,625.9 H2428.8" stroke="#FF0000" stroke-width="3.2"/>
<path d="M1292.1,950.3 1294.1,937.2 1295.4,910.8 1296.7,884.5 1298,831.9 1299.4,766.1 1300.7,728.4 1303.3,728.4 1304,743.1 1305.3,728.4 1307.2,728.4 1307.9,766.1 1309.9,785.8 1311.9,812.1 1313.2,831.9 1314.5,851.6 1315.8,869.7 1317.8,870.4 1321.7,870 1323.7,871.4 1327,872 1328.3,894.4 1330.9,895 1332.2,904.3 1334.2,907.5 1336.2,901 1338.2,904.3 1339.5,897 1341.5,904.3 1344.1,903.6 1345.4,909.2 1347.4,910.8 1348.7,916.1 1351.3,916.8 1353.3,915.8 1354.6,904.3 1357.3,903.6 1358.6,897.7 1361.2,897 1362.5,887.8 1363.8,856.6 1367.8,855.6 1371.7,854.2 1373,881.2 1375,894.4 1377.6,901 1379,914.1 1380.3,927.3 1382.9,928.9 1385.5,929.9 1388.8,929.3 1391.5,929.9 1392.8,933.9 1394.8,937.2 1396.7,943.7 1398,950.3Z" fill="#0072BD" stroke="#0072BD" stroke-width="0.6" stroke-linejoin="miter"/>
<path d="M1215,726.9 V950.5" stroke="#262626" stroke-width="3.9" fill="none"/>
<path d="M1448.5,726.9 V950.5" stroke="#262626" stroke-width="2.9" fill="none"/>
<path d="M1213,728.4 H1450" stroke="#262626" stroke-width="3"/>
<path d="M1213,950.5 H1450" stroke="#0072BD" stroke-width="3"/>
<path d="M1331.8,729.8 v2.6 M1331.8,949.1 v-2.6" stroke="#262626" stroke-width="2.4" fill="none"/>
<path d="M1213,881.6 H1450" stroke="#FF0000" stroke-width="3.2"/>
<path d="M1540.8,950.3 1542.8,940.4 1544.8,924 1546.7,910.8 1548.7,887.8 1550,886.2 1552,887.8 1553.3,901 1555.3,904.3 1556.6,914.1 1559.2,912.5 1561.2,920.7 1563.2,930.6 1565.2,938.8 1567.1,940.4 1569.8,939.8 1571.7,930.6 1573.1,912.5 1575,911.8 1576.4,917.4 1577.7,897.7 1579,892.7 1581.6,891.1 1582.9,881.2 1584.9,879.6 1586.2,864.8 1587.5,848.3 1588.9,815.4 1590.2,776 1591.5,746.3 1592.8,728.4 1594.8,728.4 1595.4,743.1 1596.7,766.1 1597.4,881.2 1598.7,924 1600,943.7 1602.7,945.4 1605.3,944.4 1607.9,943.7 1609.3,939.8 1611.2,940.4 1612.5,944.4 1615.2,944.7 1621.1,944.4 1621.8,950.3Z" fill="#0072BD" stroke="#0072BD" stroke-width="0.6" stroke-linejoin="miter"/>
<rect x="1622.4" y="944.4" width="6.6" height="6.1" fill="#0072BD"/>
<path d="M1459,726.9 V950.5" stroke="#262626" stroke-width="3.9" fill="none"/>
<path d="M1692.3,726.9 V950.5" stroke="#262626" stroke-width="2.9" fill="none"/>
<path d="M1457,728.4 H1693.8" stroke="#262626" stroke-width="3"/>
<path d="M1457,950.5 H1693.8" stroke="#0072BD" stroke-width="3"/>
<path d="M1575.7,729.8 v2.6 M1575.7,949.1 v-2.6" stroke="#262626" stroke-width="2.4" fill="none"/>
<path d="M1457,899.3 H1693.8" stroke="#FF0000" stroke-width="3.2"/>
<path d="M1745.9,949.9 1747,941.4 1749.1,940.1 1750.7,933.4 1751.8,901.4 1753.4,900.1 1754.4,906.8 1755.5,896.1 1756.6,888.1 1757.6,875.3 1759.8,874.8 1761.9,875.9 1763.5,875.3 1764.6,885.5 1765.6,880.1 1768.3,879.6 1769.4,905.4 1771,909.4 1772.6,896.1 1773.6,888.1 1774.7,869.5 1776.8,868.1 1779,866.8 1781.6,865.5 1782.7,845.5 1784.8,844.2 1785.3,822.9 1786.9,821.5 1787.5,756.6 1790.7,756 1791.2,816.2 1792.8,826.9 1793.9,874.8 1795.5,876.1 1796.5,871.6 1799.7,871.1 1800.8,877.5 1801.9,854.8 1805,854.3 1806.1,813.6 1807.7,812.2 1808.2,786.9 1809.8,773.6 1812.5,773.1 1813,797.6 1814.6,796.2 1815.2,764.3 1817.8,763.7 1818.4,728.4 1821.6,728.4 1822.1,816.2 1823.2,842.8 1824.8,869.5 1826.4,873.5 1828.5,874.3 1829.6,893.4 1830.1,874.8 1833.3,874.3 1833.8,866.8 1834.9,865.2 1836.5,864.7 1837,909.4 1838.1,928.1 1839.7,933.4 1841.3,936.1 1844.5,936.6 1847.1,934.7 1848.2,932.9 1850.9,932.3 1851.4,949.9Z" fill="#0072BD" stroke="#0072BD" stroke-width="0.6" stroke-linejoin="miter"/>
<path d="M1702.5,726.9 V950.5" stroke="#262626" stroke-width="3.9" fill="none"/>
<path d="M1936.5,726.9 V950.5" stroke="#262626" stroke-width="2.9" fill="none"/>
<path d="M1700.5,728.4 H1938" stroke="#262626" stroke-width="3"/>
<path d="M1700.5,950.5 H1938" stroke="#0072BD" stroke-width="3"/>
<path d="M1819.5,729.8 v2.6 M1819.5,949.1 v-2.6" stroke="#262626" stroke-width="2.4" fill="none"/>
<path d="M1700.5,883.6 H1938" stroke="#FF0000" stroke-width="3.2"/>
<path d="M1996.8,949.9 1997.9,925.4 1999.5,914.8 2001.1,896.1 2002.7,890.8 2003.2,868.1 2005.9,867.6 2006.4,842.8 2008.5,842.3 2009.6,866.8 2011.2,874.8 2012.8,876.1 2013.8,893.4 2015.4,882.8 2016,866.8 2018.1,866.3 2018.6,884.1 2021.3,883.6 2022.9,874.8 2025,866.8 2026.6,864.2 2027.7,842.8 2029.3,816.2 2029.8,785.6 2032,784.3 2032.5,728.4 2035.7,728.4 2036.2,747 2037.8,763 2039.4,764.3 2040.5,785.6 2041.5,837.5 2043.1,838.9 2044.2,853.5 2045.8,850.8 2047.4,845.5 2048.5,834.9 2050.6,833.5 2051.7,858.8 2052.7,869.5 2054.3,870.8 2055.4,868.1 2057.5,868.7 2058.6,882.8 2060.2,884.1 2061.8,885.5 2062.8,889.5 2064.4,884.1 2066,874.8 2067.1,853.5 2068.2,831.7 2070.3,831.1 2071.4,842.8 2073,848.2 2074,869.5 2075.6,890.8 2076.7,904.1 2077.8,922.7 2079.4,933.4 2080.4,949.9Z" fill="#0072BD" stroke="#0072BD" stroke-width="0.6" stroke-linejoin="miter"/>
<path d="M1947,726.9 V950.5" stroke="#262626" stroke-width="3.9" fill="none"/>
<path d="M2183.8,726.9 V950.5" stroke="#262626" stroke-width="2.9" fill="none"/>
<path d="M1945,728.4 H2185.2" stroke="#262626" stroke-width="3"/>
<path d="M1945,950.5 H2185.2" stroke="#0072BD" stroke-width="3"/>
<path d="M2065.4,729.8 v2.6 M2065.4,949.1 v-2.6" stroke="#262626" stroke-width="2.4" fill="none"/>
<path d="M1945,886 H2185.2" stroke="#FF0000" stroke-width="3.2"/>
<path d="M2247,950.1 2248.4,934.6 2250.3,931.3 2252.3,914.8 2254.3,898.4 2256.3,891.8 2258.2,881.9 2260.2,855.5 2262.2,853.9 2263.5,854.9 2264.8,888.5 2266.1,878.6 2268.8,880.2 2270.1,865.4 2272.1,852.2 2273.4,832.5 2274.7,799.5 2276,776.4 2278,775.8 2279.3,786.3 2280.6,728.4 2283.9,728.4 2284.6,766.6 2286.6,764.9 2287.2,792.9 2289.9,794.6 2291.2,832.5 2292.5,872 2295.1,873.6 2296.5,816 2299.8,815.3 2301.1,842.3 2302.4,881.9 2304.4,885.2 2305.7,878.6 2309.6,879.2 2311,820.9 2313.6,819.3 2314.9,817.6 2316.9,817 2317.5,839 2320.2,839.7 2320.8,895.1 2322.8,908.2 2325.5,909.9 2326.8,924.7 2328.7,931.3 2331.4,929.7 2334,930.6 2336.7,931.3 2338.6,934.6 2342.6,935.3 2345.2,924.7 2347.9,924.1 2349.2,934.6 2351.8,931.3 2353.1,941.2 2355.8,936.2 2358.4,937.9 2360.4,941.2 2363,937.2 2365.7,936.2 2367.6,941.2 2370.3,937.9 2372.9,939.5 2374.9,931.3 2377.5,930.6 2378.8,941.2 2380.8,928 2382.8,924.7 2385.4,924.1 2387.4,929.7 2390,926.4 2392.7,925.7 2395.3,927.3 2397.9,926.7 2399.3,934.6 2401.2,936.2 2402.6,950.1Z" fill="#0072BD" stroke="#0072BD" stroke-width="0.6" stroke-linejoin="miter"/>
<path d="M2194.3,726.9 V950.5" stroke="#262626" stroke-width="3.9" fill="none"/>
<path d="M2427.3,726.9 V950.5" stroke="#262626" stroke-width="2.9" fill="none"/>
<path d="M2192.4,728.4 H2428.8" stroke="#262626" stroke-width="3"/>
<path d="M2192.4,950.5 H2428.8" stroke="#0072BD" stroke-width="3"/>
<path d="M2310.8,729.8 v2.6 M2310.8,949.1 v-2.6" stroke="#262626" stroke-width="2.4" fill="none"/>
<path d="M2192.4,882.2 H2428.8" stroke="#FF0000" stroke-width="3.2"/>
<path d="M553.5,1076.9 H2052" stroke="#808080" stroke-width="3.4"/>
<path d="M471.5,1320 H553.5" stroke="#808080" stroke-width="3.2"/>
<path d="M553.5,2048.2 H2052" stroke="#444" stroke-width="1" stroke-dasharray="1.5 1"/>
<path d="M629.5,1047.5 V1391.7" stroke="#808080" stroke-width="3"/>
<path d="M945.6,1047.5 V1391.7" stroke="#808080" stroke-width="3"/>
<path d="M1261.8,1047.5 V1391.7" stroke="#808080" stroke-width="3"/>
<path d="M1577.8,1047.5 V1391.7" stroke="#808080" stroke-width="3"/>
<path d="M1894,1047.5 V1391.7" stroke="#808080" stroke-width="3"/>
<rect x="471.5" y="1047.5" width="1580.5" height="1243.9" fill="none" stroke="#262626" stroke-width="3.4"/>
<path d="M629.5,2291.4 v-17.4 M629.5,1047.5 v17.4 M787.6,2291.4 v-17.4 M787.6,1047.5 v17.4 M945.6,2291.4 v-17.4 M945.6,1047.5 v17.4 M1103.7,2291.4 v-17.4 M1103.7,1047.5 v17.4 M1261.8,2291.4 v-17.4 M1261.8,1047.5 v17.4 M1419.8,2291.4 v-17.4 M1419.8,1047.5 v17.4 M1577.8,2291.4 v-17.4 M1577.8,1047.5 v17.4 M1735.9,2291.4 v-17.4 M1735.9,1047.5 v17.4 M1894,2291.4 v-17.4 M1894,1047.5 v17.4 M471.5,2049 h17.4 M2052,2049 h-17.4 M471.5,1806 h17.4 M2052,1806 h-17.4 M471.5,1563 h17.4 M2052,1563 h-17.4 M471.5,1320 h17.4 M2052,1320 h-17.4 M471.5,1077 h17.4 M2052,1077 h-17.4" stroke="#262626" stroke-width="3.6" fill="none"/>
<g fill="none" stroke-linejoin="round">
<path d="M471.5,2292 L797.9,2292C801.2,2290.3 810.7,2286.6 817.8,2281.5C824.8,2276.4 833.8,2268.7 840.2,2261.6C846.6,2254.6 850.9,2248.2 856.3,2239.2C861.6,2230.1 867,2217.8 872.3,2207.1C877.7,2196.4 883,2185.7 888.4,2175C893.7,2164.3 899.1,2154.1 904.4,2142.9C909.8,2131.6 915.1,2118.8 920.5,2107.6C925.8,2096.3 931.2,2086.2 936.5,2075.5C941.9,2064.8 947.2,2054.1 952.6,2043.4C957.9,2032.7 963.3,2022 968.6,2011.3C973.9,2000.6 979.3,1988.8 984.6,1979.2C990,1969.6 995.9,1961 1000.7,1953.5C1005.5,1946 1009.3,1942.3 1013.5,1934.3C1017.8,1926.3 1022.6,1914.5 1026.4,1905.4C1030.1,1896.3 1032.3,1892.6 1036,1879.7C1039.7,1866.9 1045.1,1843.3 1048.8,1828.4C1052.6,1813.4 1055.3,1803.2 1058.5,1789.9C1061.7,1776.5 1064.6,1762.6 1068.1,1748.1C1071.6,1733.7 1074.7,1719.3 1079.3,1703.2C1083.9,1687.1 1090.1,1669.7 1095.6,1651.3C1101.2,1633 1107,1609.8 1112.7,1593.3C1118.4,1576.8 1124.1,1564.2 1129.8,1552.3C1135.5,1540.3 1141.2,1532.9 1146.9,1521.6C1152.6,1510.2 1158.2,1496.5 1163.9,1484C1169.6,1471.5 1175.3,1458.9 1181,1446.4C1186.7,1433.9 1192.4,1420.8 1198.1,1408.9C1203.8,1396.9 1209.5,1385.5 1215.2,1374.7C1220.9,1363.9 1226.5,1353.6 1232.2,1344C1237.9,1334.3 1244.4,1324.6 1249.3,1316.6C1254.2,1308.7 1256.5,1305.3 1261.6,1296.1C1266.7,1287 1274.1,1272.8 1280.1,1262C1286,1251.2 1291.4,1241.5 1297.1,1231.3C1302.8,1221 1308.5,1209.6 1314.2,1200.5C1319.9,1191.4 1325.6,1184 1331.3,1176.6C1337,1169.2 1343.2,1162.4 1348.4,1156.1C1353.5,1149.9 1357.5,1145.9 1362,1139C1366.6,1132.2 1371.1,1122.5 1375.7,1115.1C1380.2,1107.7 1385.6,1099.3 1389.3,1094.6C1393,1090 1394.5,1089 1397.9,1087.1C1401.3,1085.3 1402.2,1085 1409.8,1083.7C1417.5,1082.4 1432.6,1080.6 1444,1079.3C1455.4,1077.9 1471.8,1076.1 1478.1,1075.5C1484.5,1075 1473.5,1077.7 1482,1076C1490.5,1074.2 1513.3,1067.7 1529,1065.1C1544.6,1062.6 1552.5,1062 1576,1060.4C1599.5,1058.9 1623,1057 1670,1055.7C1717,1054.5 1794.3,1053.4 1858,1052.9C1921.6,1052.5 2019.7,1052.9 2052.1,1052.9" stroke="#000" stroke-width="6"/>
<path d="M471.5,2292 L797.9,2292C800.7,2289.1 808.6,2282.2 814.6,2274.5C820.5,2266.7 827.4,2256.3 833.8,2245.6C840.2,2234.9 846.6,2222.6 853.1,2210.3C859.5,2198 865.9,2184.6 872.3,2171.8C878.7,2158.9 885.2,2146.1 891.6,2133.2C898,2120.4 904.4,2107.6 910.8,2094.7C917.3,2081.9 924.2,2068 930.1,2056.2C936,2044.5 940.3,2035.4 946.1,2024.1C952,2012.9 959,2000.6 965.4,1988.8C971.8,1977.1 978.2,1965.3 984.6,1953.5C991.1,1941.8 997.5,1930.5 1003.9,1918.2C1010.3,1905.9 1017.3,1892.6 1023.2,1879.7C1029,1866.9 1034.4,1855.1 1039.2,1841.2C1044,1827.3 1048.3,1810.2 1052,1796.3C1055.8,1782.4 1058.7,1769.5 1061.7,1757.8C1064.6,1746 1067.4,1734.9 1069.7,1725.7C1072,1716.5 1071.7,1715.5 1075.5,1702.6C1079.2,1689.6 1087.1,1663.9 1092.2,1647.9C1097.3,1632 1101.3,1621.2 1105.9,1606.9C1110.4,1592.7 1114.4,1577.3 1119.5,1562.5C1124.7,1547.7 1130.9,1531.2 1136.6,1518.1C1142.3,1505.1 1148,1494.8 1153.7,1484C1159.4,1473.2 1165.1,1464.1 1170.8,1453.3C1176.5,1442.4 1182.1,1430.5 1187.8,1419.1C1193.5,1407.7 1199.2,1395.2 1204.9,1384.9C1210.6,1374.7 1216.3,1367.3 1222,1357.6C1227.7,1347.9 1232.5,1338.3 1239.1,1326.9C1245.7,1315.5 1254.8,1301.3 1261.6,1289.3C1268.4,1277.4 1274.1,1265.4 1280.1,1255.2C1286,1244.9 1291.4,1237.2 1297.1,1227.8C1302.8,1218.4 1308.5,1207.5 1314.2,1198.8C1319.9,1190.2 1325.6,1183 1331.3,1175.9C1337,1168.8 1343.2,1162.3 1348.4,1156.1C1353.5,1150 1357.5,1145.9 1362,1139C1366.6,1132.2 1371.1,1122.5 1375.7,1115.1C1380.2,1107.7 1385.6,1099.3 1389.3,1094.6C1393,1090 1394.5,1089 1397.9,1087.1C1401.3,1085.3 1402.2,1085 1409.8,1083.7C1417.5,1082.4 1432.6,1080.6 1444,1079.3C1455.4,1077.9 1471.8,1076.1 1478.1,1075.5C1484.5,1075 1473.5,1077.7 1482,1076C1490.5,1074.2 1513.3,1067.7 1529,1065.1C1544.6,1062.6 1552.5,1062 1576,1060.4C1599.5,1058.9 1623,1057 1670,1055.7C1717,1054.5 1794.3,1053.4 1858,1052.9C1921.6,1052.5 2019.7,1052.9 2052.1,1052.9" stroke="#0000FF" stroke-width="5.8" stroke-dasharray="30 10 8 10"/>
<path d="M471.5,2292 L803.3,2292C806.8,2290.4 817.5,2285.9 824.2,2282.5C830.9,2279 837,2276.3 843.4,2271.2C849.9,2266.2 856.3,2259.5 862.7,2252C869.1,2244.5 876.6,2233.8 882,2226.3C887.3,2218.8 890.5,2214.5 894.8,2207.1C899.1,2199.6 903.3,2191 907.6,2181.4C911.9,2171.8 916.7,2158.9 920.5,2149.3C924.2,2139.7 926.9,2131.6 930.1,2123.6C933.3,2115.6 936.5,2108.1 939.7,2101.2C942.9,2094.2 946.1,2088.9 949.3,2081.9C952.6,2074.9 955.8,2066.9 959,2059.4C962.2,2051.9 964.9,2045.5 968.6,2037C972.3,2028.4 977.2,2017.2 981.4,2008.1C985.7,1999 990,1991.5 994.3,1982.4C998.6,1973.3 1003.4,1962.1 1007.1,1953.5C1010.9,1945 1013.5,1938.6 1016.7,1931.1C1019.9,1923.6 1023.2,1917.2 1026.4,1908.6C1029.6,1900 1032.3,1893.1 1036,1879.7C1039.7,1866.3 1045.1,1843.3 1048.8,1828.4C1052.6,1813.4 1055.3,1803.2 1058.5,1789.9C1061.7,1776.5 1064.6,1762.6 1068.1,1748.1C1071.6,1733.7 1074.2,1722.2 1079.3,1703.2C1084.5,1684.2 1093.5,1654.9 1099,1634.3C1104.6,1613.7 1108.2,1595.6 1112.7,1579.6C1117.3,1563.7 1121.2,1552.3 1126.4,1538.6C1131.5,1525 1137.8,1511.3 1143.4,1497.7C1149.1,1484 1154.8,1469.8 1160.5,1456.7C1166.2,1443.6 1172.5,1430.5 1177.6,1419.1C1182.7,1407.7 1186.7,1399.2 1191.3,1388.4C1195.8,1377.5 1200.4,1365.6 1204.9,1354.2C1209.5,1342.8 1214,1330.9 1218.6,1320.1C1223.1,1309.2 1227.7,1298.4 1232.2,1289.3C1236.8,1280.2 1241,1273.9 1245.9,1265.4C1250.8,1256.9 1257.1,1246.6 1261.6,1238.1C1266.2,1229.5 1268.4,1223.3 1273.2,1214.2C1278,1205.1 1284.6,1193.1 1290.3,1183.4C1296,1173.8 1301.7,1163.8 1307.4,1156.1C1313.1,1148.4 1318.8,1142.7 1324.5,1137.3C1330.1,1131.9 1335.8,1127.9 1341.5,1123.7C1347.2,1119.4 1352.9,1116.6 1358.6,1111.7C1364.3,1106.9 1371.1,1099.5 1375.7,1094.6C1380.2,1089.8 1382.5,1086.1 1385.9,1082.7C1389.3,1079.3 1392.2,1076 1396.2,1074.2C1400.2,1072.3 1401.9,1072.3 1409.8,1071.4C1417.8,1070.6 1432.6,1069.9 1444,1069C1455.4,1068.1 1471.8,1066.6 1478.1,1066C1484.5,1065.3 1473.5,1066.1 1482,1065.1C1490.5,1064.2 1513.3,1061.6 1529,1060.4C1544.6,1059.3 1552.5,1059.1 1576,1058.1C1599.5,1057.1 1623,1055.2 1670,1054.3C1717,1053.5 1794.3,1053.2 1858,1052.9C1921.6,1052.7 2019.7,1052.9 2052.1,1052.9" stroke="#FF0000" stroke-width="6" stroke-dasharray="4.5 10.06"/>
<path d="M471.5,2292 L808.1,2292C810.8,2291.4 817.2,2290.3 824.2,2287.9C831.1,2285.5 841.8,2281.5 849.9,2277.7C857.9,2273.8 861.6,2271.2 872.3,2264.8C883,2258.4 900.7,2247.7 914,2239.2C927.4,2230.6 940.8,2221 952.6,2213.5C964.3,2206 975,2200.1 984.6,2194.2C994.3,2188.3 1003.4,2183.5 1010.3,2178.2C1017.3,2172.8 1022.4,2168 1026.4,2162.1C1030.4,2156.2 1032,2150.9 1034.4,2142.9C1036.8,2134.9 1038.7,2124.7 1040.8,2114C1042.9,2103.3 1045.4,2089.9 1047.2,2078.7C1049.1,2067.5 1050.4,2057.3 1052,2046.6C1053.6,2035.9 1055,2026.8 1056.9,2014.5C1058.7,2002.2 1061.1,1986.7 1063.3,1972.8C1065.4,1958.9 1067.6,1944.4 1069.7,1931.1C1071.8,1917.7 1073.7,1905.9 1076.1,1892.6C1078.5,1879.2 1081.2,1865.3 1084.1,1850.8C1087.1,1836.4 1090.6,1820.3 1093.8,1805.9C1097,1791.5 1099.9,1779.7 1103.4,1764.2C1106.9,1748.7 1109.1,1732.2 1114.6,1712.8C1120.2,1693.5 1130.1,1666.7 1136.6,1647.9C1143.1,1629.1 1147.4,1614.3 1153.7,1600.1C1159.9,1585.9 1166.8,1575.1 1174.2,1562.5C1181.6,1550 1190.1,1538.6 1198.1,1525C1206.1,1511.3 1212.9,1495.9 1222,1480.6C1231.1,1465.2 1243.1,1447 1252.7,1432.8C1262.4,1418.5 1270.9,1407.7 1280.1,1395.2C1289.2,1382.7 1297.1,1370.1 1307.4,1357.6C1317.6,1345.1 1330.1,1332.3 1341.5,1320.1C1352.9,1307.8 1364.3,1295 1375.7,1284.2C1387.1,1273.4 1400.7,1261.7 1409.8,1255.2C1418.9,1248.6 1422.4,1249.8 1430.3,1244.9C1438.3,1240.1 1449.7,1231.8 1457.7,1226.1C1465.6,1220.4 1472.4,1217.3 1478.1,1210.8C1483.8,1204.2 1488,1193.5 1491.8,1186.9C1495.6,1180.2 1494.6,1180.6 1500.8,1170.9C1507,1161.2 1520.4,1139.6 1529,1128.6C1537.6,1117.6 1544.6,1112.9 1552.5,1105.1C1560.3,1097.3 1568.1,1086.9 1576,1081.6C1583.8,1076.3 1591.6,1075.5 1599.5,1073.1C1607.3,1070.8 1615.1,1069.6 1623,1067.5C1630.8,1065.4 1638.6,1062.4 1646.5,1060.4C1654.3,1058.5 1658.2,1056.9 1670,1055.7C1681.7,1054.6 1653.3,1053.9 1717,1053.4C1780.6,1052.9 1996.2,1053 2052.1,1052.9" stroke="#00FF00" stroke-width="6" stroke-dasharray="37.2 21"/>
</g>
<rect x="1621.5" y="1910.8" width="383.6" height="334" fill="#fff" stroke="#262626" stroke-width="3.5"/>
<path d="M1651,1959 H1797" stroke="#000" stroke-width="6"/>
<path d="M1651,2038.5 H1797" stroke="#0000FF" stroke-width="5" stroke-dasharray="30 10 8 10"/>
<path d="M1651,2118 H1790" stroke="#FF0000" stroke-width="6" stroke-dasharray="4.5 10.06"/>
<path d="M1651,2197 H1797" stroke="#00FF00" stroke-width="6" stroke-dasharray="37.2 21"/>
<text x="1810.3" y="1981.6" class="lg">Global</text>
<text x="1810.3" y="2061.1" class="lg">Block1</text>
<text x="1810.3" y="2140.6" class="lg">Block2</text>
<text x="1810.3" y="2219.6" class="lg">Block3</text>
<text x="463.9" y="2361.6" class="tk" text-anchor="middle">9000</text>
<text x="621.9" y="2361.6" class="tk" text-anchor="middle">9200</text>
<text x="780" y="2361.6" class="tk" text-anchor="middle">9400</text>
<text x="938" y="2361.6" class="tk" text-anchor="middle">9600</text>
<text x="1096.1" y="2361.6" class="tk" text-anchor="middle">9800</text>
<text x="1261.3" y="2361.6" class="tk" text-anchor="middle">10000</text>
<text x="1419.4" y="2361.6" class="tk" text-anchor="middle">10200</text>
<text x="1577.4" y="2361.6" class="tk" text-anchor="middle">10400</text>
<text x="1735.5" y="2361.6" class="tk" text-anchor="middle">10600</text>
<text x="1893.5" y="2361.6" class="tk" text-anchor="middle">10800</text>
<text x="2051.6" y="2361.6" class="tk" text-anchor="middle">11000</text>
<text x="450" y="2311" class="tk" text-anchor="end">0</text>
<text x="450" y="2068" class="tk" text-anchor="end">50</text>
<text x="450" y="1825" class="tk" text-anchor="end">100</text>
<text x="450" y="1582" class="tk" text-anchor="end">150</text>
<text x="450" y="1339" class="tk" text-anchor="end">200</text>
<text x="450" y="1096" class="tk" text-anchor="end">250</text>
</svg>
</body></html>
